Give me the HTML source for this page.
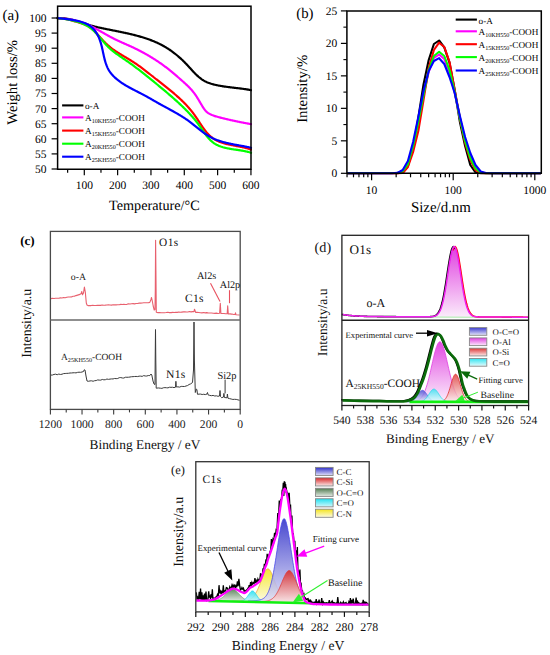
<!DOCTYPE html><html><head><meta charset="utf-8"><style>html,body{margin:0;padding:0;background:#fff;}svg{display:block;}text{font-family:"Liberation Serif",serif;text-rendering:geometricPrecision;}</style></head><body>
<svg width="550" height="655" viewBox="0 0 550 655">
<rect x="0" y="0" width="550" height="655" fill="#fff"/>
<path d="M57.44,18.3 L58.26,18.25 L59.08,18.22 L59.89,18.21 L60.7,18.21 L61.51,18.23 L62.31,18.27 L63.11,18.32 L63.91,18.38 L64.71,18.46 L65.5,18.55 L66.29,18.66 L67.08,18.78 L67.87,18.91 L68.65,19.05 L69.44,19.2 L70.22,19.36 L71,19.53 L71.77,19.71 L72.55,19.9 L73.32,20.1 L74.1,20.3 L74.87,20.51 L75.64,20.73 L76.41,20.95 L77.18,21.17 L77.94,21.4 L78.71,21.64 L79.47,21.88 L80.24,22.12 L81,22.36 L81.76,22.6 L82.53,22.85 L83.29,23.09 L84.05,23.34 L84.81,23.58 L85.57,23.83 L86.33,24.07 L87.09,24.31 L87.85,24.55 L88.61,24.79 L89.37,25.02 L90.13,25.25 L90.89,25.48 L91.65,25.7 L92.41,25.91 L93.17,26.12 L93.93,26.33 L94.69,26.53 L95.46,26.72 L96.22,26.91 L96.98,27.09 L97.75,27.27 L98.52,27.45 L99.29,27.62 L100.05,27.79 L100.82,27.95 L101.6,28.11 L102.37,28.27 L103.14,28.43 L103.92,28.59 L104.7,28.75 L105.48,28.91 L106.26,29.07 L107.04,29.22 L107.82,29.38 L108.61,29.53 L109.39,29.69 L110.18,29.84 L110.96,30 L111.75,30.15 L112.54,30.31 L113.33,30.46 L114.12,30.62 L114.91,30.78 L115.7,30.93 L116.49,31.09 L117.29,31.25 L118.08,31.41 L118.87,31.57 L119.66,31.73 L120.46,31.89 L121.25,32.06 L122.04,32.22 L122.84,32.39 L123.63,32.56 L124.42,32.72 L125.21,32.9 L126.01,33.07 L126.8,33.24 L127.59,33.42 L128.38,33.6 L129.17,33.78 L129.96,33.96 L130.75,34.15 L131.54,34.34 L132.32,34.53 L133.11,34.72 L133.89,34.92 L134.68,35.11 L135.46,35.32 L136.24,35.52 L137.02,35.73 L137.8,35.94 L138.57,36.15 L139.35,36.37 L140.12,36.59 L140.9,36.82 L141.67,37.04 L142.44,37.28 L143.2,37.51 L143.97,37.75 L144.73,38 L145.49,38.24 L146.25,38.5 L147.01,38.75 L147.76,39.01 L148.51,39.28 L149.26,39.55 L150.01,39.82 L150.75,40.1 L151.49,40.39 L152.23,40.68 L152.97,40.97 L153.7,41.27 L154.43,41.58 L155.16,41.89 L155.88,42.2 L156.61,42.53 L157.32,42.85 L158.04,43.19 L158.75,43.52 L159.46,43.87 L160.16,44.22 L160.86,44.58 L161.56,44.94 L162.26,45.31 L162.95,45.69 L163.63,46.07 L164.32,46.46 L165,46.85 L165.67,47.25 L166.34,47.66 L167.01,48.08 L167.68,48.49 L168.34,48.92 L168.99,49.35 L169.65,49.79 L170.3,50.24 L170.95,50.69 L171.59,51.14 L172.23,51.6 L172.87,52.07 L173.5,52.55 L174.13,53.03 L174.76,53.51 L175.38,54 L176,54.5 L176.62,55 L177.23,55.51 L177.84,56.02 L178.45,56.54 L179.05,57.07 L179.66,57.6 L180.25,58.13 L180.85,58.67 L181.44,59.22 L182.03,59.77 L182.61,60.33 L183.2,60.89 L183.77,61.46 L184.35,62.03 L184.92,62.61 L185.5,63.19 L186.06,63.78 L186.63,64.37 L187.19,64.97 L187.75,65.57 L188.31,66.17 L188.86,66.78 L189.42,67.39 L189.97,68 L190.52,68.61 L191.08,69.22 L191.63,69.83 L192.18,70.44 L192.74,71.04 L193.3,71.64 L193.86,72.23 L194.42,72.82 L194.99,73.4 L195.55,73.98 L196.13,74.54 L196.7,75.1 L197.29,75.65 L197.87,76.18 L198.47,76.71 L199.07,77.22 L199.67,77.72 L200.29,78.21 L200.91,78.68 L201.53,79.13 L202.17,79.57 L202.82,79.99 L203.47,80.4 L204.13,80.78 L204.81,81.15 L205.49,81.5 L206.18,81.83 L206.87,82.15 L207.58,82.45 L208.29,82.74 L209.01,83.01 L209.74,83.27 L210.48,83.52 L211.22,83.76 L211.97,83.98 L212.72,84.2 L213.48,84.4 L214.24,84.6 L215.01,84.78 L215.79,84.96 L216.57,85.13 L217.35,85.3 L218.14,85.46 L218.93,85.61 L219.73,85.76 L220.53,85.9 L221.33,86.04 L222.14,86.17 L222.95,86.3 L223.76,86.42 L224.57,86.54 L225.38,86.66 L226.2,86.77 L227.02,86.88 L227.83,86.99 L228.65,87.1 L229.47,87.2 L230.29,87.3 L231.11,87.4 L231.93,87.5 L232.75,87.6 L233.57,87.69 L234.39,87.79 L235.2,87.88 L236.01,87.98 L236.83,88.07 L237.64,88.17 L238.44,88.26 L239.25,88.36 L240.05,88.46 L240.85,88.56 L241.64,88.66 L242.43,88.76 L243.22,88.87 L244,88.98 L244.78,89.09 L245.56,89.2 L246.33,89.32 L247.09,89.44 L247.85,89.57 L248.6,89.7 L249.34,89.83 L250.08,89.97 L250.81,90.11 L250.94,90.14" fill="none" stroke="#000" stroke-width="2.2" stroke-linejoin="round" stroke-linecap="round"/>
<path d="M57.3,18.12 L58.15,18.18 L59,18.25 L59.84,18.31 L60.68,18.38 L61.51,18.45 L62.34,18.52 L63.16,18.6 L63.98,18.69 L64.8,18.77 L65.61,18.87 L66.42,18.96 L67.22,19.06 L68.02,19.17 L68.81,19.29 L69.6,19.4 L70.39,19.53 L71.17,19.66 L71.95,19.8 L72.73,19.94 L73.5,20.1 L74.27,20.25 L75.04,20.42 L75.8,20.6 L76.56,20.78 L77.32,20.97 L78.07,21.17 L78.82,21.38 L79.57,21.59 L80.32,21.82 L81.06,22.06 L81.8,22.3 L82.54,22.56 L83.28,22.82 L84.01,23.1 L84.74,23.38 L85.47,23.68 L86.2,23.98 L86.92,24.29 L87.65,24.61 L88.37,24.94 L89.09,25.27 L89.81,25.61 L90.52,25.96 L91.24,26.31 L91.95,26.67 L92.67,27.03 L93.38,27.4 L94.09,27.78 L94.8,28.16 L95.51,28.54 L96.21,28.93 L96.92,29.32 L97.63,29.71 L98.33,30.1 L99.04,30.5 L99.74,30.9 L100.45,31.3 L101.15,31.7 L101.86,32.1 L102.56,32.51 L103.26,32.91 L103.97,33.31 L104.67,33.71 L105.38,34.11 L106.08,34.51 L106.78,34.91 L107.49,35.3 L108.2,35.69 L108.9,36.08 L109.61,36.47 L110.32,36.85 L111.03,37.23 L111.74,37.6 L112.45,37.97 L113.16,38.33 L113.87,38.69 L114.59,39.05 L115.3,39.4 L116.02,39.74 L116.74,40.09 L117.46,40.43 L118.17,40.76 L118.89,41.1 L119.61,41.43 L120.33,41.76 L121.05,42.08 L121.78,42.41 L122.5,42.73 L123.22,43.06 L123.94,43.38 L124.66,43.7 L125.39,44.02 L126.11,44.34 L126.83,44.66 L127.56,44.98 L128.28,45.31 L129,45.63 L129.72,45.95 L130.45,46.28 L131.17,46.61 L131.89,46.94 L132.61,47.27 L133.33,47.61 L134.05,47.95 L134.77,48.29 L135.49,48.64 L136.21,48.99 L136.92,49.34 L137.64,49.7 L138.36,50.06 L139.07,50.42 L139.79,50.79 L140.5,51.16 L141.21,51.54 L141.92,51.91 L142.63,52.29 L143.34,52.68 L144.05,53.07 L144.75,53.46 L145.46,53.85 L146.16,54.25 L146.86,54.65 L147.56,55.05 L148.26,55.46 L148.95,55.87 L149.65,56.28 L150.34,56.7 L151.03,57.11 L151.72,57.54 L152.41,57.96 L153.09,58.39 L153.77,58.82 L154.45,59.25 L155.13,59.68 L155.81,60.12 L156.48,60.56 L157.15,61.01 L157.82,61.45 L158.49,61.9 L159.15,62.35 L159.81,62.81 L160.47,63.26 L161.12,63.72 L161.78,64.18 L162.43,64.65 L163.07,65.11 L163.72,65.58 L164.36,66.05 L165,66.53 L165.63,67 L166.26,67.48 L166.89,67.96 L167.52,68.44 L168.14,68.92 L168.76,69.41 L169.37,69.9 L169.98,70.39 L170.59,70.88 L171.2,71.38 L171.8,71.87 L172.4,72.37 L173,72.87 L173.59,73.37 L174.19,73.88 L174.78,74.39 L175.38,74.9 L175.97,75.41 L176.57,75.93 L177.17,76.44 L177.77,76.97 L178.37,77.49 L178.97,78.02 L179.57,78.55 L180.18,79.08 L180.79,79.61 L181.41,80.15 L182.03,80.7 L182.64,81.24 L183.26,81.79 L183.88,82.34 L184.49,82.9 L185.11,83.46 L185.72,84.02 L186.32,84.59 L186.93,85.16 L187.53,85.73 L188.12,86.31 L188.7,86.89 L189.28,87.47 L189.85,88.06 L190.41,88.66 L190.96,89.26 L191.5,89.86 L192.03,90.46 L192.55,91.07 L193.05,91.69 L193.54,92.31 L194.02,92.93 L194.49,93.56 L194.94,94.19 L195.39,94.83 L195.83,95.47 L196.26,96.11 L196.68,96.76 L197.1,97.41 L197.51,98.07 L197.91,98.72 L198.31,99.39 L198.71,100.05 L199.11,100.72 L199.51,101.39 L199.91,102.07 L200.31,102.74 L200.71,103.43 L201.11,104.11 L201.52,104.8 L201.93,105.48 L202.34,106.18 L202.77,106.87 L203.2,107.56 L203.64,108.24 L204.1,108.9 L204.58,109.55 L205.08,110.17 L205.59,110.76 L206.14,111.32 L206.71,111.85 L207.3,112.34 L207.92,112.8 L208.56,113.23 L209.21,113.63 L209.89,114.01 L210.58,114.37 L211.29,114.7 L212.01,115.01 L212.74,115.3 L213.49,115.58 L214.24,115.84 L215.01,116.09 L215.78,116.33 L216.55,116.56 L217.33,116.78 L218.12,116.99 L218.9,117.2 L219.68,117.41 L220.47,117.61 L221.25,117.82 L222.04,118.02 L222.82,118.22 L223.61,118.41 L224.39,118.61 L225.18,118.8 L225.96,118.99 L226.75,119.17 L227.53,119.36 L228.32,119.54 L229.1,119.72 L229.89,119.9 L230.67,120.08 L231.46,120.25 L232.24,120.43 L233.03,120.6 L233.81,120.77 L234.59,120.94 L235.38,121.1 L236.16,121.27 L236.95,121.43 L237.73,121.59 L238.51,121.75 L239.3,121.91 L240.08,122.07 L240.86,122.22 L241.65,122.37 L242.43,122.53 L243.21,122.68 L243.99,122.83 L244.78,122.97 L245.56,123.12 L246.34,123.27 L247.12,123.41 L247.9,123.55 L248.69,123.69 L249.47,123.84 L250.25,123.97 L250.99,124.11" fill="none" stroke="#ff00ff" stroke-width="2.2" stroke-linejoin="round" stroke-linecap="round"/>
<path d="M57.52,18.29 L58.29,18.27 L59.06,18.27 L59.84,18.3 L60.62,18.34 L61.4,18.4 L62.19,18.48 L62.98,18.58 L63.77,18.69 L64.56,18.82 L65.36,18.96 L66.15,19.11 L66.95,19.27 L67.75,19.45 L68.55,19.63 L69.35,19.82 L70.14,20.02 L70.94,20.23 L71.73,20.44 L72.53,20.66 L73.32,20.88 L74.11,21.1 L74.89,21.33 L75.67,21.55 L76.45,21.77 L77.23,22 L78,22.23 L78.76,22.46 L79.53,22.69 L80.28,22.94 L81.03,23.18 L81.77,23.44 L82.51,23.7 L83.24,23.98 L83.96,24.26 L84.68,24.56 L85.38,24.87 L86.08,25.2 L86.77,25.54 L87.45,25.9 L88.12,26.28 L88.78,26.67 L89.43,27.09 L90.07,27.52 L90.7,27.98 L91.32,28.45 L91.93,28.94 L92.53,29.45 L93.13,29.97 L93.71,30.51 L94.29,31.06 L94.87,31.62 L95.44,32.19 L96,32.77 L96.56,33.36 L97.12,33.96 L97.67,34.56 L98.22,35.17 L98.77,35.78 L99.31,36.39 L99.86,37 L100.4,37.61 L100.95,38.22 L101.5,38.83 L102.04,39.44 L102.59,40.04 L103.14,40.63 L103.7,41.22 L104.26,41.8 L104.82,42.37 L105.39,42.93 L105.96,43.48 L106.54,44.03 L107.12,44.57 L107.7,45.1 L108.3,45.62 L108.89,46.13 L109.5,46.64 L110.11,47.14 L110.72,47.63 L111.35,48.11 L111.97,48.59 L112.61,49.05 L113.25,49.52 L113.89,49.97 L114.54,50.42 L115.2,50.87 L115.85,51.31 L116.51,51.75 L117.18,52.18 L117.85,52.61 L118.52,53.03 L119.2,53.45 L119.87,53.87 L120.55,54.29 L121.23,54.7 L121.92,55.11 L122.6,55.52 L123.29,55.93 L123.98,56.34 L124.66,56.75 L125.35,57.16 L126.04,57.56 L126.73,57.97 L127.42,58.38 L128.1,58.79 L128.79,59.21 L129.47,59.62 L130.16,60.04 L130.84,60.46 L131.52,60.88 L132.19,61.31 L132.87,61.74 L133.54,62.18 L134.21,62.62 L134.87,63.06 L135.54,63.5 L136.2,63.95 L136.86,64.41 L137.51,64.87 L138.17,65.33 L138.82,65.79 L139.47,66.25 L140.12,66.72 L140.76,67.19 L141.41,67.67 L142.05,68.15 L142.69,68.62 L143.33,69.11 L143.97,69.59 L144.61,70.07 L145.24,70.56 L145.88,71.05 L146.51,71.54 L147.14,72.03 L147.77,72.52 L148.4,73.02 L149.03,73.51 L149.66,74.01 L150.29,74.5 L150.92,75 L151.54,75.5 L152.17,76 L152.8,76.49 L153.42,76.99 L154.05,77.49 L154.67,77.99 L155.3,78.49 L155.93,78.99 L156.55,79.48 L157.18,79.98 L157.81,80.48 L158.44,80.97 L159.06,81.47 L159.69,81.96 L160.32,82.45 L160.95,82.95 L161.58,83.44 L162.2,83.94 L162.83,84.43 L163.46,84.92 L164.08,85.42 L164.71,85.91 L165.33,86.41 L165.96,86.91 L166.58,87.4 L167.2,87.9 L167.82,88.4 L168.44,88.9 L169.06,89.4 L169.68,89.9 L170.3,90.41 L170.91,90.91 L171.53,91.42 L172.14,91.92 L172.75,92.43 L173.36,92.95 L173.96,93.46 L174.57,93.97 L175.17,94.49 L175.77,95.01 L176.37,95.53 L176.96,96.06 L177.56,96.59 L178.15,97.12 L178.74,97.65 L179.32,98.18 L179.9,98.72 L180.48,99.26 L181.06,99.81 L181.64,100.35 L182.21,100.9 L182.78,101.46 L183.34,102.02 L183.9,102.58 L184.46,103.14 L185.01,103.71 L185.57,104.28 L186.11,104.86 L186.66,105.44 L187.2,106.03 L187.73,106.62 L188.26,107.21 L188.79,107.81 L189.32,108.41 L189.84,109.02 L190.35,109.63 L190.86,110.25 L191.37,110.87 L191.87,111.5 L192.37,112.13 L192.86,112.77 L193.34,113.41 L193.83,114.06 L194.3,114.71 L194.78,115.37 L195.24,116.04 L195.71,116.71 L196.17,117.38 L196.62,118.06 L197.08,118.74 L197.53,119.42 L197.98,120.11 L198.42,120.79 L198.87,121.47 L199.32,122.16 L199.77,122.84 L200.21,123.52 L200.66,124.21 L201.11,124.88 L201.56,125.56 L202.02,126.23 L202.48,126.89 L202.94,127.55 L203.4,128.21 L203.87,128.86 L204.35,129.5 L204.83,130.14 L205.31,130.76 L205.81,131.38 L206.3,131.99 L206.81,132.59 L207.33,133.18 L207.85,133.75 L208.38,134.32 L208.92,134.87 L209.47,135.41 L210.03,135.94 L210.6,136.45 L211.18,136.95 L211.78,137.43 L212.38,137.9 L213,138.35 L213.63,138.78 L214.28,139.2 L214.94,139.6 L215.61,139.98 L216.29,140.34 L216.99,140.69 L217.7,141.02 L218.42,141.34 L219.15,141.65 L219.89,141.94 L220.63,142.22 L221.39,142.48 L222.16,142.74 L222.93,142.98 L223.71,143.21 L224.49,143.44 L225.29,143.65 L226.08,143.86 L226.89,144.06 L227.69,144.25 L228.5,144.43 L229.32,144.61 L230.13,144.78 L230.95,144.95 L231.77,145.12 L232.59,145.28 L233.42,145.43 L234.24,145.59 L235.06,145.74 L235.88,145.9 L236.7,146.05 L237.51,146.2 L238.33,146.36 L239.14,146.51 L239.94,146.67 L240.74,146.83 L241.54,147 L242.33,147.16 L243.12,147.34 L243.9,147.51 L244.67,147.7 L245.43,147.89 L246.19,148.09 L246.93,148.29 L247.67,148.5 L248.4,148.73 L249.11,148.96 L249.82,149.2 L250.51,149.45 L250.96,149.63" fill="none" stroke="#ff0000" stroke-width="2.2" stroke-linejoin="round" stroke-linecap="round"/>
<path d="M57.49,18.19 L58.27,18.25 L59.04,18.32 L59.83,18.4 L60.61,18.48 L61.4,18.57 L62.19,18.66 L62.99,18.76 L63.78,18.87 L64.58,18.99 L65.38,19.11 L66.18,19.24 L66.98,19.38 L67.78,19.52 L68.58,19.67 L69.38,19.83 L70.18,19.99 L70.98,20.16 L71.77,20.34 L72.57,20.52 L73.36,20.71 L74.15,20.91 L74.93,21.11 L75.72,21.33 L76.49,21.55 L77.27,21.77 L78.04,22.01 L78.8,22.25 L79.56,22.5 L80.31,22.76 L81.06,23.03 L81.8,23.32 L82.53,23.61 L83.26,23.92 L83.98,24.23 L84.69,24.56 L85.39,24.91 L86.08,25.26 L86.77,25.64 L87.44,26.02 L88.1,26.42 L88.76,26.84 L89.4,27.27 L90.03,27.72 L90.65,28.19 L91.26,28.67 L91.87,29.16 L92.46,29.67 L93.04,30.19 L93.62,30.73 L94.19,31.27 L94.75,31.83 L95.31,32.39 L95.86,32.97 L96.4,33.55 L96.94,34.14 L97.48,34.73 L98.01,35.34 L98.54,35.94 L99.07,36.56 L99.59,37.17 L100.12,37.79 L100.64,38.41 L101.16,39.03 L101.69,39.66 L102.21,40.28 L102.74,40.9 L103.26,41.52 L103.79,42.13 L104.32,42.75 L104.86,43.36 L105.4,43.96 L105.94,44.56 L106.49,45.15 L107.05,45.73 L107.61,46.31 L108.18,46.88 L108.75,47.44 L109.33,47.99 L109.92,48.53 L110.51,49.06 L111.11,49.58 L111.72,50.1 L112.33,50.61 L112.95,51.12 L113.57,51.61 L114.19,52.1 L114.82,52.59 L115.46,53.07 L116.09,53.54 L116.73,54.01 L117.38,54.48 L118.03,54.94 L118.67,55.4 L119.33,55.86 L119.98,56.31 L120.64,56.77 L121.29,57.22 L121.95,57.66 L122.61,58.11 L123.27,58.56 L123.93,59 L124.59,59.45 L125.25,59.9 L125.9,60.34 L126.56,60.79 L127.22,61.24 L127.87,61.7 L128.53,62.15 L129.18,62.61 L129.83,63.07 L130.48,63.53 L131.12,63.99 L131.77,64.46 L132.41,64.93 L133.05,65.4 L133.69,65.87 L134.33,66.35 L134.97,66.82 L135.61,67.3 L136.24,67.78 L136.87,68.26 L137.51,68.75 L138.14,69.23 L138.77,69.72 L139.4,70.21 L140.03,70.7 L140.66,71.19 L141.29,71.68 L141.91,72.17 L142.54,72.67 L143.16,73.16 L143.79,73.66 L144.41,74.16 L145.04,74.66 L145.66,75.16 L146.29,75.66 L146.91,76.16 L147.53,76.66 L148.16,77.17 L148.78,77.67 L149.41,78.17 L150.03,78.68 L150.65,79.18 L151.28,79.69 L151.9,80.19 L152.52,80.7 L153.15,81.2 L153.77,81.71 L154.4,82.22 L155.02,82.73 L155.64,83.23 L156.27,83.74 L156.89,84.25 L157.52,84.76 L158.14,85.27 L158.76,85.78 L159.38,86.29 L160,86.81 L160.62,87.32 L161.24,87.83 L161.86,88.35 L162.48,88.86 L163.1,89.38 L163.72,89.89 L164.34,90.41 L164.95,90.92 L165.57,91.44 L166.18,91.96 L166.79,92.48 L167.41,93 L168.02,93.52 L168.63,94.04 L169.24,94.57 L169.84,95.09 L170.45,95.61 L171.05,96.14 L171.66,96.66 L172.26,97.19 L172.86,97.72 L173.46,98.25 L174.06,98.78 L174.65,99.31 L175.25,99.84 L175.84,100.37 L176.43,100.91 L177.02,101.44 L177.61,101.98 L178.19,102.51 L178.78,103.05 L179.36,103.59 L179.94,104.13 L180.52,104.67 L181.09,105.21 L181.67,105.76 L182.24,106.3 L182.81,106.85 L183.37,107.39 L183.94,107.94 L184.5,108.5 L185.06,109.05 L185.62,109.6 L186.17,110.16 L186.72,110.72 L187.27,111.29 L187.82,111.85 L188.37,112.42 L188.91,112.99 L189.45,113.57 L189.98,114.14 L190.51,114.72 L191.04,115.31 L191.57,115.9 L192.1,116.49 L192.62,117.09 L193.13,117.69 L193.65,118.29 L194.16,118.9 L194.67,119.52 L195.17,120.14 L195.68,120.76 L196.17,121.39 L196.67,122.02 L197.16,122.66 L197.65,123.3 L198.13,123.95 L198.61,124.61 L199.09,125.27 L199.56,125.94 L200.04,126.61 L200.51,127.28 L200.97,127.96 L201.44,128.64 L201.91,129.32 L202.37,130 L202.84,130.68 L203.31,131.35 L203.78,132.02 L204.25,132.69 L204.73,133.36 L205.21,134.02 L205.7,134.67 L206.19,135.32 L206.68,135.95 L207.18,136.58 L207.69,137.2 L208.2,137.81 L208.73,138.4 L209.26,138.99 L209.8,139.55 L210.35,140.11 L210.91,140.65 L211.48,141.17 L212.06,141.68 L212.65,142.17 L213.26,142.63 L213.88,143.08 L214.51,143.51 L215.15,143.92 L215.81,144.31 L216.48,144.68 L217.17,145.02 L217.86,145.36 L218.57,145.67 L219.29,145.97 L220.01,146.25 L220.75,146.52 L221.49,146.77 L222.25,147.01 L223.01,147.24 L223.78,147.45 L224.56,147.66 L225.34,147.85 L226.13,148.03 L226.92,148.21 L227.72,148.37 L228.52,148.53 L229.33,148.68 L230.14,148.82 L230.96,148.96 L231.77,149.09 L232.59,149.22 L233.41,149.35 L234.23,149.47 L235.06,149.59 L235.88,149.71 L236.7,149.83 L237.52,149.95 L238.34,150.07 L239.15,150.19 L239.97,150.32 L240.78,150.45 L241.58,150.58 L242.39,150.71 L243.18,150.85 L243.98,151 L244.76,151.15 L245.55,151.32 L246.32,151.49 L247.09,151.66 L247.85,151.85 L248.6,152.05 L249.34,152.26 L250.08,152.48 L250.8,152.71 L251.03,152.79" fill="none" stroke="#00ff00" stroke-width="2.2" stroke-linejoin="round" stroke-linecap="round"/>
<path d="M57.61,18.12 L58.31,18.18 L59.03,18.25 L59.76,18.32 L60.51,18.39 L61.26,18.46 L62.02,18.54 L62.8,18.62 L63.58,18.71 L64.37,18.79 L65.17,18.89 L65.98,18.98 L66.79,19.09 L67.61,19.19 L68.43,19.3 L69.25,19.42 L70.08,19.54 L70.91,19.67 L71.74,19.8 L72.57,19.94 L73.4,20.08 L74.23,20.23 L75.06,20.39 L75.88,20.55 L76.7,20.73 L77.52,20.9 L78.33,21.09 L79.14,21.29 L79.94,21.5 L80.73,21.72 L81.51,21.95 L82.29,22.19 L83.05,22.45 L83.81,22.72 L84.55,23 L85.28,23.3 L86,23.62 L86.71,23.95 L87.4,24.31 L88.07,24.68 L88.73,25.07 L89.38,25.47 L90,25.9 L90.61,26.36 L91.2,26.83 L91.77,27.32 L92.33,27.83 L92.87,28.36 L93.39,28.9 L93.89,29.47 L94.38,30.05 L94.85,30.64 L95.31,31.26 L95.75,31.88 L96.18,32.52 L96.59,33.18 L96.99,33.84 L97.37,34.52 L97.74,35.21 L98.09,35.92 L98.44,36.63 L98.76,37.35 L99.08,38.08 L99.38,38.82 L99.66,39.57 L99.94,40.32 L100.2,41.09 L100.45,41.85 L100.69,42.63 L100.92,43.41 L101.15,44.19 L101.36,44.98 L101.56,45.77 L101.76,46.56 L101.95,47.36 L102.13,48.16 L102.32,48.96 L102.49,49.77 L102.67,50.57 L102.84,51.37 L103.01,52.18 L103.18,52.98 L103.36,53.79 L103.53,54.59 L103.7,55.39 L103.88,56.19 L104.07,56.99 L104.25,57.78 L104.44,58.57 L104.64,59.36 L104.85,60.14 L105.06,60.92 L105.29,61.69 L105.52,62.45 L105.76,63.21 L106.01,63.96 L106.28,64.71 L106.56,65.45 L106.85,66.18 L107.16,66.9 L107.48,67.61 L107.82,68.31 L108.18,69.01 L108.55,69.69 L108.95,70.36 L109.36,71.02 L109.79,71.67 L110.24,72.31 L110.7,72.94 L111.19,73.55 L111.68,74.16 L112.2,74.76 L112.73,75.34 L113.27,75.92 L113.83,76.49 L114.39,77.05 L114.97,77.59 L115.57,78.13 L116.17,78.66 L116.78,79.18 L117.41,79.69 L118.04,80.2 L118.68,80.69 L119.33,81.18 L119.98,81.65 L120.64,82.12 L121.31,82.58 L121.98,83.04 L122.65,83.48 L123.33,83.92 L124.01,84.35 L124.7,84.78 L125.38,85.19 L126.07,85.6 L126.76,86 L127.45,86.4 L128.14,86.79 L128.83,87.18 L129.53,87.56 L130.22,87.94 L130.92,88.31 L131.61,88.68 L132.31,89.05 L133.01,89.42 L133.71,89.78 L134.41,90.14 L135.11,90.5 L135.81,90.86 L136.52,91.21 L137.22,91.57 L137.92,91.93 L138.63,92.29 L139.34,92.65 L140.04,93.01 L140.75,93.38 L141.46,93.74 L142.16,94.11 L142.87,94.49 L143.58,94.86 L144.29,95.24 L145,95.63 L145.71,96.02 L146.42,96.41 L147.13,96.8 L147.84,97.2 L148.55,97.6 L149.26,98.01 L149.97,98.41 L150.68,98.82 L151.39,99.22 L152.1,99.63 L152.8,100.04 L153.51,100.45 L154.22,100.85 L154.93,101.26 L155.64,101.67 L156.35,102.07 L157.06,102.47 L157.77,102.88 L158.47,103.27 L159.18,103.67 L159.89,104.06 L160.59,104.46 L161.3,104.84 L162,105.23 L162.7,105.62 L163.41,106 L164.11,106.38 L164.81,106.77 L165.51,107.15 L166.21,107.53 L166.91,107.9 L167.61,108.28 L168.3,108.66 L169,109.04 L169.7,109.42 L170.39,109.8 L171.08,110.18 L171.77,110.56 L172.46,110.94 L173.15,111.32 L173.84,111.7 L174.52,112.09 L175.21,112.48 L175.89,112.87 L176.57,113.26 L177.25,113.65 L177.93,114.05 L178.61,114.45 L179.29,114.85 L179.96,115.25 L180.63,115.66 L181.3,116.07 L181.97,116.49 L182.64,116.91 L183.3,117.33 L183.97,117.76 L184.63,118.19 L185.29,118.62 L185.94,119.07 L186.6,119.51 L187.25,119.96 L187.9,120.42 L188.55,120.88 L189.2,121.35 L189.84,121.83 L190.49,122.31 L191.13,122.79 L191.76,123.28 L192.4,123.78 L193.03,124.28 L193.67,124.78 L194.3,125.29 L194.93,125.8 L195.57,126.31 L196.2,126.82 L196.83,127.33 L197.46,127.84 L198.1,128.35 L198.73,128.86 L199.37,129.37 L200,129.87 L200.64,130.37 L201.28,130.87 L201.92,131.36 L202.57,131.85 L203.21,132.34 L203.86,132.81 L204.52,133.28 L205.17,133.74 L205.83,134.2 L206.49,134.65 L207.16,135.08 L207.83,135.51 L208.51,135.93 L209.19,136.33 L209.88,136.73 L210.57,137.11 L211.26,137.48 L211.97,137.84 L212.67,138.19 L213.38,138.52 L214.1,138.85 L214.82,139.16 L215.55,139.46 L216.28,139.75 L217.01,140.04 L217.75,140.31 L218.49,140.57 L219.24,140.83 L219.99,141.08 L220.74,141.32 L221.5,141.55 L222.26,141.77 L223.02,141.99 L223.79,142.2 L224.56,142.4 L225.33,142.6 L226.11,142.79 L226.88,142.98 L227.66,143.16 L228.44,143.33 L229.22,143.51 L230.01,143.67 L230.79,143.84 L231.58,144 L232.37,144.15 L233.16,144.31 L233.95,144.46 L234.74,144.61 L235.54,144.76 L236.33,144.9 L237.12,145.05 L237.92,145.19 L238.71,145.33 L239.5,145.48 L240.3,145.62 L241.09,145.76 L241.88,145.91 L242.68,146.05 L243.47,146.2 L244.26,146.35 L245.05,146.5 L245.84,146.66 L246.63,146.81 L247.41,146.97 L248.2,147.13 L248.98,147.3 L249.76,147.47 L250.54,147.65 L251.04,147.76" fill="none" stroke="#0000ff" stroke-width="2.2" stroke-linejoin="round" stroke-linecap="round"/>
<rect x="57.6" y="6.2" width="193.4" height="163.05" fill="none" stroke="#000" stroke-width="1.5"/>
<line x1="51.6" y1="18" x2="57.6" y2="18" stroke="#000" stroke-width="1.2"/>
<text x="46.6" y="21.9" font-size="11.5" text-anchor="end" fill="#000" >100</text>
<line x1="51.6" y1="33.1" x2="57.6" y2="33.1" stroke="#000" stroke-width="1.2"/>
<text x="46.6" y="37" font-size="11.5" text-anchor="end" fill="#000" >95</text>
<line x1="51.6" y1="48.2" x2="57.6" y2="48.2" stroke="#000" stroke-width="1.2"/>
<text x="46.6" y="52.1" font-size="11.5" text-anchor="end" fill="#000" >90</text>
<line x1="51.6" y1="63.3" x2="57.6" y2="63.3" stroke="#000" stroke-width="1.2"/>
<text x="46.6" y="67.2" font-size="11.5" text-anchor="end" fill="#000" >85</text>
<line x1="51.6" y1="78.4" x2="57.6" y2="78.4" stroke="#000" stroke-width="1.2"/>
<text x="46.6" y="82.3" font-size="11.5" text-anchor="end" fill="#000" >80</text>
<line x1="51.6" y1="93.5" x2="57.6" y2="93.5" stroke="#000" stroke-width="1.2"/>
<text x="46.6" y="97.4" font-size="11.5" text-anchor="end" fill="#000" >75</text>
<line x1="51.6" y1="108.6" x2="57.6" y2="108.6" stroke="#000" stroke-width="1.2"/>
<text x="46.6" y="112.5" font-size="11.5" text-anchor="end" fill="#000" >70</text>
<line x1="51.6" y1="123.7" x2="57.6" y2="123.7" stroke="#000" stroke-width="1.2"/>
<text x="46.6" y="127.6" font-size="11.5" text-anchor="end" fill="#000" >65</text>
<line x1="51.6" y1="138.8" x2="57.6" y2="138.8" stroke="#000" stroke-width="1.2"/>
<text x="46.6" y="142.7" font-size="11.5" text-anchor="end" fill="#000" >60</text>
<line x1="51.6" y1="153.9" x2="57.6" y2="153.9" stroke="#000" stroke-width="1.2"/>
<text x="46.6" y="157.8" font-size="11.5" text-anchor="end" fill="#000" >55</text>
<line x1="51.6" y1="169" x2="57.6" y2="169" stroke="#000" stroke-width="1.2"/>
<text x="46.6" y="172.9" font-size="11.5" text-anchor="end" fill="#000" >50</text>
<line x1="67.63" y1="169.25" x2="67.63" y2="172.75" stroke="#000" stroke-width="1.2"/>
<line x1="84.3" y1="169.25" x2="84.3" y2="175.25" stroke="#000" stroke-width="1.2"/>
<text x="84.3" y="189.3" font-size="11.5" text-anchor="middle" fill="#000" >100</text>
<line x1="100.97" y1="169.25" x2="100.97" y2="172.75" stroke="#000" stroke-width="1.2"/>
<line x1="117.63" y1="169.25" x2="117.63" y2="175.25" stroke="#000" stroke-width="1.2"/>
<text x="117.63" y="189.3" font-size="11.5" text-anchor="middle" fill="#000" >200</text>
<line x1="134.29" y1="169.25" x2="134.29" y2="172.75" stroke="#000" stroke-width="1.2"/>
<line x1="150.96" y1="169.25" x2="150.96" y2="175.25" stroke="#000" stroke-width="1.2"/>
<text x="150.96" y="189.3" font-size="11.5" text-anchor="middle" fill="#000" >300</text>
<line x1="167.62" y1="169.25" x2="167.62" y2="172.75" stroke="#000" stroke-width="1.2"/>
<line x1="184.29" y1="169.25" x2="184.29" y2="175.25" stroke="#000" stroke-width="1.2"/>
<text x="184.29" y="189.3" font-size="11.5" text-anchor="middle" fill="#000" >400</text>
<line x1="200.95" y1="169.25" x2="200.95" y2="172.75" stroke="#000" stroke-width="1.2"/>
<line x1="217.62" y1="169.25" x2="217.62" y2="175.25" stroke="#000" stroke-width="1.2"/>
<text x="217.62" y="189.3" font-size="11.5" text-anchor="middle" fill="#000" >500</text>
<line x1="234.28" y1="169.25" x2="234.28" y2="172.75" stroke="#000" stroke-width="1.2"/>
<line x1="250.95" y1="169.25" x2="250.95" y2="175.25" stroke="#000" stroke-width="1.2"/>
<text x="250.95" y="189.3" font-size="11.5" text-anchor="middle" fill="#000" >600</text>
<text x="2.4" y="20.2" font-size="15" text-anchor="start" fill="#000" >(a)</text>
<text transform="translate(16.9,82.35) rotate(-90)" x="0" y="0" font-size="14.7" text-anchor="middle" fill="#000">Weight loss/%</text>
<text x="154.4" y="209.6" font-size="14.2" text-anchor="middle" fill="#000" >Temperature/°C</text>
<line x1="62.1" y1="105.4" x2="83.4" y2="105.4" stroke="#000" stroke-width="2.1"/>
<line x1="62.1" y1="117.4" x2="83.4" y2="117.4" stroke="#ff00ff" stroke-width="2.1"/>
<line x1="62.1" y1="130.6" x2="83.4" y2="130.6" stroke="#ff0000" stroke-width="2.1"/>
<line x1="62.1" y1="143.7" x2="83.4" y2="143.7" stroke="#00ff00" stroke-width="2.1"/>
<line x1="62.1" y1="156.7" x2="83.4" y2="156.7" stroke="#0000ff" stroke-width="2.1"/>
<text x="85" y="109.3" font-size="9.2" text-anchor="start" fill="#000" >o-A</text>
<text x="85" y="121.1" font-size="9.2" text-anchor="start">A<tspan font-size="6.1" dy="2">10KH550</tspan><tspan dy="-2">-COOH</tspan></text>
<text x="85" y="134.3" font-size="9.2" text-anchor="start">A<tspan font-size="6.1" dy="2">15KH550</tspan><tspan dy="-2">-COOH</tspan></text>
<text x="85" y="147.4" font-size="9.2" text-anchor="start">A<tspan font-size="6.1" dy="2">20KH550</tspan><tspan dy="-2">-COOH</tspan></text>
<text x="85" y="160.4" font-size="9.2" text-anchor="start">A<tspan font-size="6.1" dy="2">25KH550</tspan><tspan dy="-2">-COOH</tspan></text>
<path d="M347.4,173.3 L397.5,173.3 L402.7,172.5 L407.9,166 L413.1,148 L418.3,118 L423.5,84.5 L428.7,60 L433.9,44 L439.1,40.5 L444.3,47.3 L449.5,62.7 L454.7,90 L459.9,122 L465.1,146 L470.3,165 L475.5,172.5 L480.7,173.3 L540.8,173.3" fill="none" stroke="#000" stroke-width="2.1" stroke-linejoin="round"/>
<path d="M347.4,173.3 L397.5,173 L402.7,171 L407.9,164 L413.1,146 L418.3,122 L423.5,95 L428.7,72 L433.9,58 L439.1,54.5 L444.3,59 L449.5,72 L454.7,93 L459.9,118 L465.1,140 L470.3,157 L475.5,168 L480.7,172.5 L485.9,173.3 L540.8,173.3" fill="none" stroke="#ff00ff" stroke-width="2.1" stroke-linejoin="round"/>
<path d="M347.4,173.3 L397.5,173.3 L402.7,173 L407.9,167 L413.1,152 L418.3,131 L423.5,100 L428.7,68 L433.9,50 L439.1,42.7 L444.3,47 L449.5,62 L454.7,90 L459.9,118 L465.1,143 L470.3,160 L475.5,170 L480.7,173 L485.9,173.3 L540.8,173.3" fill="none" stroke="#ff0000" stroke-width="2.1" stroke-linejoin="round"/>
<path d="M347.4,173.3 L397.5,173 L402.7,171 L407.9,164 L413.1,146 L418.3,122 L423.5,95 L428.7,70 L433.9,56 L439.1,51.8 L444.3,56 L449.5,70 L454.7,92 L459.9,118 L465.1,141 L470.3,158 L475.5,168.5 L480.7,172.5 L485.9,173.3 L540.8,173.3" fill="none" stroke="#00ff00" stroke-width="2.1" stroke-linejoin="round"/>
<path d="M347.4,173.3 L392.3,173.3 L397.5,172.8 L402.7,170 L407.9,161 L413.1,142 L418.3,117 L423.5,91 L428.7,71 L433.9,61 L439.1,58.2 L444.3,64 L449.5,77 L454.7,93 L459.9,116 L465.1,137 L470.3,153 L475.5,165 L480.7,171.5 L485.9,173 L491.1,173.3 L540.8,173.3" fill="none" stroke="#0000ff" stroke-width="2.1" stroke-linejoin="round"/>
<path d="M346.9,10.9 L541.3,10.9 L541.3,173.3 L346.9,173.3 Z" fill="none" stroke="#000" stroke-width="1.5"/>
<line x1="340.9" y1="173.3" x2="346.9" y2="173.3" stroke="#000" stroke-width="1.2"/>
<text x="337.3" y="177.2" font-size="11.5" text-anchor="end" fill="#000" >0</text>
<line x1="343.4" y1="157.06" x2="346.9" y2="157.06" stroke="#000" stroke-width="1.1"/>
<line x1="340.9" y1="140.82" x2="346.9" y2="140.82" stroke="#000" stroke-width="1.2"/>
<text x="337.3" y="144.72" font-size="11.5" text-anchor="end" fill="#000" >5</text>
<line x1="343.4" y1="124.58" x2="346.9" y2="124.58" stroke="#000" stroke-width="1.1"/>
<line x1="340.9" y1="108.34" x2="346.9" y2="108.34" stroke="#000" stroke-width="1.2"/>
<text x="337.3" y="112.24" font-size="11.5" text-anchor="end" fill="#000" >10</text>
<line x1="343.4" y1="92.1" x2="346.9" y2="92.1" stroke="#000" stroke-width="1.1"/>
<line x1="340.9" y1="75.86" x2="346.9" y2="75.86" stroke="#000" stroke-width="1.2"/>
<text x="337.3" y="79.76" font-size="11.5" text-anchor="end" fill="#000" >15</text>
<line x1="343.4" y1="59.62" x2="346.9" y2="59.62" stroke="#000" stroke-width="1.1"/>
<line x1="340.9" y1="43.38" x2="346.9" y2="43.38" stroke="#000" stroke-width="1.2"/>
<text x="337.3" y="47.28" font-size="11.5" text-anchor="end" fill="#000" >20</text>
<line x1="343.4" y1="27.14" x2="346.9" y2="27.14" stroke="#000" stroke-width="1.1"/>
<line x1="340.9" y1="10.9" x2="346.9" y2="10.9" stroke="#000" stroke-width="1.2"/>
<text x="337.3" y="14.8" font-size="11.5" text-anchor="end" fill="#000" >25</text>
<line x1="347.04" y1="173.3" x2="347.04" y2="177.3" stroke="#000" stroke-width="1.2"/>
<line x1="353.5" y1="173.3" x2="353.5" y2="177.3" stroke="#000" stroke-width="1.2"/>
<line x1="358.96" y1="173.3" x2="358.96" y2="177.3" stroke="#000" stroke-width="1.2"/>
<line x1="363.69" y1="173.3" x2="363.69" y2="177.3" stroke="#000" stroke-width="1.2"/>
<line x1="367.87" y1="173.3" x2="367.87" y2="177.3" stroke="#000" stroke-width="1.2"/>
<line x1="371.6" y1="173.3" x2="371.6" y2="180.3" stroke="#000" stroke-width="1.2"/>
<text x="371.6" y="194.3" font-size="11.5" text-anchor="middle" fill="#000" >10</text>
<line x1="396.16" y1="173.3" x2="396.16" y2="177.3" stroke="#000" stroke-width="1.2"/>
<line x1="410.53" y1="173.3" x2="410.53" y2="177.3" stroke="#000" stroke-width="1.2"/>
<line x1="420.73" y1="173.3" x2="420.73" y2="177.3" stroke="#000" stroke-width="1.2"/>
<line x1="428.64" y1="173.3" x2="428.64" y2="177.3" stroke="#000" stroke-width="1.2"/>
<line x1="435.1" y1="173.3" x2="435.1" y2="177.3" stroke="#000" stroke-width="1.2"/>
<line x1="440.56" y1="173.3" x2="440.56" y2="177.3" stroke="#000" stroke-width="1.2"/>
<line x1="445.29" y1="173.3" x2="445.29" y2="177.3" stroke="#000" stroke-width="1.2"/>
<line x1="449.47" y1="173.3" x2="449.47" y2="177.3" stroke="#000" stroke-width="1.2"/>
<line x1="453.2" y1="173.3" x2="453.2" y2="180.3" stroke="#000" stroke-width="1.2"/>
<text x="453.2" y="194.3" font-size="11.5" text-anchor="middle" fill="#000" >100</text>
<line x1="477.76" y1="173.3" x2="477.76" y2="177.3" stroke="#000" stroke-width="1.2"/>
<line x1="492.13" y1="173.3" x2="492.13" y2="177.3" stroke="#000" stroke-width="1.2"/>
<line x1="502.33" y1="173.3" x2="502.33" y2="177.3" stroke="#000" stroke-width="1.2"/>
<line x1="510.24" y1="173.3" x2="510.24" y2="177.3" stroke="#000" stroke-width="1.2"/>
<line x1="516.7" y1="173.3" x2="516.7" y2="177.3" stroke="#000" stroke-width="1.2"/>
<line x1="522.16" y1="173.3" x2="522.16" y2="177.3" stroke="#000" stroke-width="1.2"/>
<line x1="526.89" y1="173.3" x2="526.89" y2="177.3" stroke="#000" stroke-width="1.2"/>
<line x1="531.07" y1="173.3" x2="531.07" y2="177.3" stroke="#000" stroke-width="1.2"/>
<line x1="534.8" y1="173.3" x2="534.8" y2="180.3" stroke="#000" stroke-width="1.2"/>
<text x="534.8" y="194.3" font-size="11.5" text-anchor="middle" fill="#000" >1000</text>
<text x="296.3" y="18.2" font-size="14.8" text-anchor="start" fill="#000" >(b)</text>
<text transform="translate(307,88.8) rotate(-90)" x="0" y="0" font-size="14.75" text-anchor="middle" fill="#000">Intensity/%</text>
<text x="440.9" y="212.4" font-size="14.9" text-anchor="middle" fill="#000" >Size/d.nm</text>
<line x1="455.7" y1="19.6" x2="476.9" y2="19.6" stroke="#000" stroke-width="2.1"/>
<line x1="455.7" y1="31.3" x2="476.9" y2="31.3" stroke="#ff00ff" stroke-width="2.1"/>
<line x1="455.7" y1="44.2" x2="476.9" y2="44.2" stroke="#ff0000" stroke-width="2.1"/>
<line x1="455.7" y1="57.1" x2="476.9" y2="57.1" stroke="#00ff00" stroke-width="2.1"/>
<line x1="455.7" y1="70.5" x2="476.9" y2="70.5" stroke="#0000ff" stroke-width="2.1"/>
<text x="478.6" y="23.5" font-size="9.2" text-anchor="start" fill="#000" >o-A</text>
<text x="478.6" y="35" font-size="9.2" text-anchor="start">A<tspan font-size="6.1" dy="2">10KH550</tspan><tspan dy="-2">-COOH</tspan></text>
<text x="478.6" y="47.9" font-size="9.2" text-anchor="start">A<tspan font-size="6.1" dy="2">15KH550</tspan><tspan dy="-2">-COOH</tspan></text>
<text x="478.6" y="60.8" font-size="9.2" text-anchor="start">A<tspan font-size="6.1" dy="2">20KH550</tspan><tspan dy="-2">-COOH</tspan></text>
<text x="478.6" y="74.2" font-size="9.2" text-anchor="start">A<tspan font-size="6.1" dy="2">25KH550</tspan><tspan dy="-2">-COOH</tspan></text>
<path d="M50.8,298.6 L52.4,298.38 L54,298.45 L55.6,298.28 L57.2,298.31 L58.8,298.23 L60.4,297.87 L62,298 L63.6,297.56 L65.2,297.77 L66.8,297.28 L68.4,297.07 L70,297 L71.5,296.9 L73,296.29 L74.5,296.12 L76,295.6 L80,294.4 L81.2,293.5 L81.8,291.5 L82.5,294.8 L83.5,293 L84.4,287 L85.3,292 L86.3,303 L87,305 L88,305.6 L89.57,305.55 L91.14,305.58 L92.71,305.3 L94.29,305.5 L95.86,305.57 L97.43,305.35 L99,305.42 L100.57,305.34 L102.14,305 L103.71,305.3 L105.29,305.17 L106.86,304.99 L108.43,304.81 L110,305 L111.54,305.11 L113.08,304.83 L114.62,304.88 L116.15,304.88 L117.69,304.72 L119.23,304.75 L120.77,304.41 L122.31,304.54 L123.85,304.28 L125.38,304.45 L126.92,304.34 L128.46,303.88 L130,304 L131.52,303.69 L133.05,303.61 L134.57,303.86 L136.09,303.48 L137.62,303.45 L139.14,303.16 L140.66,303.14 L142.18,302.96 L143.71,302.82 L145.23,302.81 L146.75,302.69 L148.28,302.73 L149.8,302.4 L151,299.5 L151.5,297.5 L152.3,301 L153.2,306 L154.2,310 L155,309.5 L155.3,290 L155.6,240.3 L155.9,270 L156.3,312.2 L158,312.6 L159.63,312.67 L161.27,312.77 L162.9,312.71 L164.53,312.76 L166.17,312.57 L167.8,312.3 L169.43,312.62 L171.07,312.65 L172.7,312.4 L174.22,312.55 L175.74,312.32 L177.26,312.34 L178.79,312.03 L180.31,312.28 L181.83,312.09 L183.35,311.89 L184.87,311.72 L186.39,312.06 L187.91,312.07 L189.44,311.57 L190.96,311.86 L192.48,311.61 L194,311.6 L194.5,309.2 L195,310.5 L195.6,312.4 L197.2,312.29 L198.8,312.43 L200.4,312.73 L202,312.85 L203.6,312.51 L205.2,312.86 L206.8,312.64 L208.4,313.04 L210,313 L211.6,312.95 L213.2,313.26 L214.8,313.34 L216.4,313.14 L218,313.42 L219.6,313.2 L220.3,303.2 L220.9,313.5 L222.47,313.48 L224.05,313.44 L225.62,313.77 L227.2,313.8 L227.7,305.8 L228.3,314 L229.98,313.89 L231.65,314.1 L233.32,314.33 L235,314.5 L235.5,312.8 L236,314.8 L239.6,315" fill="none" stroke="#e8606e" stroke-width="1.1" stroke-linejoin="round"/>
<path d="M50.8,375.1 L52.4,375.02 L54,374.44 L55.6,374.16 L57.2,374.73 L58.8,374.06 L60.4,374.46 L62,374.23 L63.6,373.59 L65.2,373.49 L66.8,373.37 L68.4,373.3 L70,373 L71.5,372.96 L73,372.8 L74.5,372.73 L76,372.9 L77.5,372.38 L79,372.19 L80.5,372.32 L82,372 L83.5,371.5 L84.2,369.8 L85,370 L86,376 L87,381 L88.5,381.3 L90.04,380.91 L91.57,380.81 L93.11,381.26 L94.64,380.69 L96.18,380.56 L97.71,379.92 L99.25,380.12 L100.79,380.11 L102.32,379.45 L103.86,379.83 L105.39,379.69 L106.93,379.02 L108.46,379.37 L110,379.1 L111.54,378.91 L113.08,378.94 L114.62,378.48 L116.15,378.64 L117.69,378.51 L119.23,377.7 L120.77,377.57 L122.31,377.97 L123.85,378.06 L125.38,377.26 L126.92,377.28 L128.46,377.24 L130,377 L131.52,376.73 L133.05,376.66 L134.57,376.51 L136.09,376.45 L137.62,376.55 L139.14,376.17 L140.66,376.14 L142.18,376.38 L143.71,375.6 L145.23,375.99 L146.75,376.03 L148.28,375.54 L149.8,375.6 L151,374 L151.8,375 L153,381 L154,384 L155,384.5 L155.2,360 L155.5,329.5 L155.8,360 L156.2,388.2 L158.3,387.95 L160.4,388.2 L161.91,388.37 L163.42,387.76 L164.93,387.62 L166.44,387.74 L167.95,387.88 L169.46,387.24 L170.97,387.34 L172.48,387.25 L173.99,387.6 L175.5,387.2 L175.9,381.3 L176.3,387 L177.94,386.84 L179.58,387.12 L181.22,386.4 L182.86,386.45 L184.5,386.5 L186.03,385.99 L187.55,385.55 L189.07,384.51 L190.6,383.9 L192.5,382.5 L193.5,370 L194,322 L194.4,360 L195.3,392.5 L196.3,389 L196.9,389.5 L197.5,394.3 L199.06,394.11 L200.62,394.08 L202.18,394.51 L203.74,394.26 L205.3,394.6 L207,394 L207.5,392.5 L208,394.8 L209.7,395.38 L211.4,395.7 L213.1,395.42 L214.8,396 L216.37,395.8 L217.93,396.28 L219.5,396 L220,390.5 L220.5,396.5 L221.7,397.7 L223.5,397 L223.9,393.4 L224.4,397.5 L227,397.8 L227.4,394 L227.9,398.2 L229.5,398.6 L231.18,399.01 L232.87,399.44 L234.55,399.31 L236.23,399.4 L237.92,399.83 L239.6,400.3" fill="none" stroke="#3a3a3a" stroke-width="1.0" stroke-linejoin="round"/>
<line x1="210.5" y1="283.3" x2="220" y2="301.5" stroke="#e8505e" stroke-width="1.1"/>
<line x1="229.5" y1="290.2" x2="229.5" y2="303.2" stroke="#e8505e" stroke-width="1.1"/>
<line x1="225.1" y1="379.6" x2="225.1" y2="393.4" stroke="#3a3a3a" stroke-width="1"/>
<rect x="50.4" y="231.4" width="189.8" height="178" fill="none" stroke="#4a4a4a" stroke-width="1.3"/>
<line x1="50.4" y1="320" x2="240.2" y2="320" stroke="#6a6a6a" stroke-width="1.4"/>
<line x1="50.4" y1="409.4" x2="50.4" y2="414.6" stroke="#3a3a3a" stroke-width="1.1"/>
<text x="50.4" y="427.6" font-size="11.6" text-anchor="middle" fill="#222" >1200</text>
<line x1="66.22" y1="409.4" x2="66.22" y2="412.4" stroke="#3a3a3a" stroke-width="1.1"/>
<line x1="82.03" y1="409.4" x2="82.03" y2="414.6" stroke="#3a3a3a" stroke-width="1.1"/>
<text x="82.03" y="427.6" font-size="11.6" text-anchor="middle" fill="#222" >1000</text>
<line x1="97.85" y1="409.4" x2="97.85" y2="412.4" stroke="#3a3a3a" stroke-width="1.1"/>
<line x1="113.67" y1="409.4" x2="113.67" y2="414.6" stroke="#3a3a3a" stroke-width="1.1"/>
<text x="113.67" y="427.6" font-size="11.6" text-anchor="middle" fill="#222" >800</text>
<line x1="129.48" y1="409.4" x2="129.48" y2="412.4" stroke="#3a3a3a" stroke-width="1.1"/>
<line x1="145.3" y1="409.4" x2="145.3" y2="414.6" stroke="#3a3a3a" stroke-width="1.1"/>
<text x="145.3" y="427.6" font-size="11.6" text-anchor="middle" fill="#222" >600</text>
<line x1="161.12" y1="409.4" x2="161.12" y2="412.4" stroke="#3a3a3a" stroke-width="1.1"/>
<line x1="176.93" y1="409.4" x2="176.93" y2="414.6" stroke="#3a3a3a" stroke-width="1.1"/>
<text x="176.93" y="427.6" font-size="11.6" text-anchor="middle" fill="#222" >400</text>
<line x1="192.75" y1="409.4" x2="192.75" y2="412.4" stroke="#3a3a3a" stroke-width="1.1"/>
<line x1="208.57" y1="409.4" x2="208.57" y2="414.6" stroke="#3a3a3a" stroke-width="1.1"/>
<text x="208.57" y="427.6" font-size="11.6" text-anchor="middle" fill="#222" >200</text>
<line x1="224.38" y1="409.4" x2="224.38" y2="412.4" stroke="#3a3a3a" stroke-width="1.1"/>
<line x1="240.2" y1="409.4" x2="240.2" y2="414.6" stroke="#3a3a3a" stroke-width="1.1"/>
<text x="240.2" y="427.6" font-size="11.6" text-anchor="middle" fill="#222" >0</text>
<text x="20.2" y="245.2" font-size="13" text-anchor="start" fill="#000" font-weight="bold">(c)</text>
<text transform="translate(31.4,323.3) rotate(-90)" x="0" y="0" font-size="13.9" text-anchor="middle" fill="#111">Intensity/a.u</text>
<text x="145" y="448.6" font-size="13.4" text-anchor="middle" fill="#111" >Binding Energy / eV</text>
<text x="159" y="246" font-size="11.3" text-anchor="start" fill="#111" letter-spacing="0.5">O1s</text>
<text x="185" y="301.6" font-size="11.5" text-anchor="start" fill="#111" letter-spacing="0.3">C1s</text>
<text x="197" y="279" font-size="10.2" text-anchor="start" fill="#111" >Al2s</text>
<text x="219.8" y="288.4" font-size="10.2" text-anchor="start" fill="#111" >Al2p</text>
<text x="70.8" y="280.4" font-size="9.8" text-anchor="start" fill="#111" >o-A</text>
<text x="166" y="378.4" font-size="11.6" text-anchor="start" fill="#111" letter-spacing="0.3">N1s</text>
<text x="217.4" y="378.7" font-size="10.4" text-anchor="start" fill="#111" >Si2p</text>
<text x="61" y="360" font-size="9.45" fill="#111">A<tspan font-size="6.15" dy="2.1">25KH550</tspan><tspan dy="-2.1">-COOH</tspan></text>
<defs>
<linearGradient id="gdM" x1="0" y1="0" x2="0" y2="1"><stop offset="0" stop-color="#e040e0"/><stop offset="1" stop-color="#fbebfb"/></linearGradient>
<linearGradient id="gdM2" x1="0" y1="0" x2="0" y2="1"><stop offset="0" stop-color="#e040e0"/><stop offset="1" stop-color="#fbebfb"/></linearGradient>
<linearGradient id="gdB" x1="0" y1="0" x2="0" y2="1"><stop offset="0" stop-color="#3c3cd0"/><stop offset="1" stop-color="#e7e7f9"/></linearGradient>
<linearGradient id="gdR" x1="0" y1="0" x2="0" y2="1"><stop offset="0" stop-color="#dc3434"/><stop offset="1" stop-color="#fbeaea"/></linearGradient>
<linearGradient id="gdC" x1="0" y1="0" x2="0" y2="1"><stop offset="0" stop-color="#30e4f0"/><stop offset="1" stop-color="#e6fbfd"/></linearGradient>
</defs>
<path d="M430,316.69 L430.5,316.67 L431,316.65 L431.5,316.62 L432,316.58 L432.5,316.53 L433,316.47 L433.5,316.39 L434,316.28 L434.5,316.15 L435,315.99 L435.5,315.79 L436,315.54 L436.5,315.24 L437,314.88 L437.5,314.45 L438,313.93 L438.5,313.32 L439,312.6 L439.5,311.76 L440,310.8 L440.5,309.69 L441,308.42 L441.5,306.99 L442,305.38 L442.5,303.59 L443,301.61 L443.5,299.44 L444,297.08 L444.5,294.53 L445,291.81 L445.5,288.93 L446,285.9 L446.5,282.75 L447,279.51 L447.5,276.21 L448,272.88 L448.5,269.58 L449,266.33 L449.5,263.18 L450,260.19 L450.5,257.4 L451,254.84 L451.5,252.57 L452,250.62 L452.5,249.03 L453,247.82 L453.5,247.02 L454,246.63 L454.5,246.68 L455,247.15 L455.5,248.04 L456,249.33 L456.5,251 L457,253.03 L457.5,255.36 L458,257.97 L458.5,260.82 L459,263.85 L459.5,267.02 L460,270.29 L460.5,273.61 L461,276.94 L461.5,280.23 L462,283.46 L462.5,286.59 L463,289.6 L463.5,292.46 L464,295.15 L464.5,297.66 L465,299.99 L465.5,302.13 L466,304.07 L466.5,305.83 L467,307.41 L467.5,308.81 L468,310.05 L468.5,311.14 L469,312.08 L469.5,312.9 L470,313.6 L470.5,314.19 L471,314.7 L471.5,315.12 L472,315.47 L472.5,315.76 L473,316.01 L473.5,316.2 L474,316.36 L474.5,316.49 L475,316.6 L475.5,316.68 L476,316.75 L476.5,316.8 L477,316.84 L477.5,316.87 L478,316.9 Z" fill="url(#gdM)" stroke="none"/>
<line x1="430" y1="317.04" x2="480" y2="317.28" stroke="#a8e8a8" stroke-width="1"/>
<path d="M342.5,314.4 L343.1,314.51 L343.7,314.62 L344.3,314.72 L344.9,314.82 L345.5,314.91 L346.1,314.99 L346.7,315.08 L347.3,315.16 L347.9,315.23 L348.5,315.3 L349.1,315.37 L349.7,315.44 L350.3,315.5 L350.9,315.56 L351.5,315.61 L352.1,315.67 L352.7,315.72 L353.3,315.76 L353.9,315.81 L354.5,315.85 L355.1,315.89 L355.7,315.93 L356.3,315.97 L356.9,316.01 L357.5,316.04 L358.1,316.07 L358.7,316.1 L359.3,316.13 L359.9,316.16 L360.5,316.19 L361.1,316.21 L361.7,316.24 L362.3,316.26 L362.9,316.28 L363.5,316.3 L364.1,316.32 L364.7,316.34 L365.3,316.36 L365.9,316.37 L366.5,316.39 L367.1,316.4 L367.7,316.42 L368.3,316.43 L368.9,316.44 L369.5,316.46 L370.1,316.47 L370.7,316.48 L371.3,316.49 L371.9,316.5 L372.5,316.51 L373.1,316.52 L373.7,316.53 L374.3,316.54 L374.9,316.55 L375.5,316.55 L376.1,316.56 L376.7,316.57 L377.3,316.57 L377.9,316.58 L378.5,316.59 L379.1,316.59 L379.7,316.6 L380.3,316.6 L380.9,316.61 L381.5,316.61 L382.1,316.62 L382.7,316.62 L383.3,316.62 L383.9,316.63 L384.5,316.63 L385.1,316.63 L385.7,316.64 L386.3,316.64 L386.9,316.64 L387.5,316.65 L388.1,316.65 L388.7,316.65 L389.3,316.65 L389.9,316.66 L390.5,316.66 L391.1,316.66 L391.7,316.66 L392.3,316.66 L392.9,316.67 L393.5,316.67 L394.1,316.67 L394.7,316.67 L395.3,316.67 L395.9,316.67 L396.5,316.67 L397.1,316.68 L397.7,316.68 L398.3,316.68 L398.9,316.68 L399.5,316.68 L400.1,316.68 L400.7,316.68 L401.3,316.68 L401.9,316.68 L402.5,316.68 L403.1,316.69 L403.7,316.69 L404.3,316.69 L404.9,316.69 L405.5,316.69 L406.1,316.69 L406.7,316.69 L407.3,316.69 L407.9,316.69 L408.5,316.69 L409.1,316.69 L409.7,316.69 L410.3,316.69 L410.9,316.69 L411.5,316.69 L412.1,316.69 L412.7,316.69 L413.3,316.69 L413.9,316.69 L414.5,316.69 L415.1,316.69 L415.7,316.69 L416.3,316.7 L416.9,316.7 L417.5,316.7 L418.1,316.7 L418.7,316.7 L419.3,316.7 L419.9,316.7 L420.5,316.7 L421.1,316.7 L421.7,316.7 L422.3,316.71 L422.9,316.71 L423.5,316.71 L424.1,316.72 L424.7,316.72 L425.3,316.72 L425.9,316.72 L426.5,316.72 L427.1,316.72 L427.7,316.72 L428.3,316.72 L428.9,316.71 L429.5,316.7 L430.1,316.69 L430.7,316.67 L431.3,316.63 L431.9,316.59 L432.5,316.53 L433.1,316.45 L433.7,316.35 L434.3,316.21 L434.9,316.02 L435.5,315.79 L436.1,315.49 L436.7,315.1 L437.3,314.63 L437.9,314.04 L438.5,313.32 L439.1,312.44 L439.7,311.39 L440.3,310.15 L440.9,308.69 L441.5,306.99 L442.1,305.04 L442.7,302.82 L443.3,300.33 L443.9,297.57 L444.5,294.53 L445.1,291.25 L445.7,287.73 L446.3,284.02 L446.9,280.16 L447.5,276.21 L448.1,272.22 L448.7,268.27 L449.3,264.43 L449.9,260.78 L450.5,257.4 L451.1,254.36 L451.7,251.75 L452.3,249.62 L452.9,248.03 L453.5,247.02 L454.1,246.61 L454.7,246.82 L455.3,247.64 L455.9,249.04" fill="none" stroke="#000" stroke-width="1.6" transform="translate(-0.7,0)"/>
<path d="M452,250.62 L452.6,248.75 L453.2,247.45 L453.8,246.74 L454.4,246.64 L455,247.15 L455.6,248.27 L456.2,249.96 L456.8,252.18 L457.4,254.87 L458,257.97 L458.6,261.41 L459.2,265.1 L459.8,268.97 L460.4,272.94 L461,276.94 L461.6,280.89 L462.2,284.73 L462.8,288.41 L463.4,291.9 L464,295.15 L464.6,298.14 L465.2,300.87 L465.8,303.32 L466.4,305.5 L467,307.41 L467.6,309.07 L468.2,310.5 L468.8,311.72 L469.4,312.74 L470,313.6 L470.6,314.3 L471.2,314.87 L471.8,315.34 L472.4,315.71 L473,316.01 L473.6,316.24 L474.2,316.42 L474.8,316.56 L475.4,316.67 L476,316.75 L476.6,316.81 L477.2,316.85 L477.8,316.89 L478.4,316.92 L479,316.93 L479.6,316.95 L480.2,316.96 L480.8,316.97 L481.4,316.98 L482,316.98 L482.6,316.99 L483.2,316.99 L483.8,316.99 L484.4,317 L485,317 L485.6,317 L486.2,317.01 L486.8,317.01 L487.4,317.01 L488,317.01 L488.6,317.02 L489.2,317.02 L489.8,317.02 L490.4,317.03 L491,317.03 L491.6,317.03 L492.2,317.03 L492.8,317.04 L493.4,317.04 L494,317.04 L494.6,317.05 L495.2,317.05 L495.8,317.05 L496.4,317.05 L497,317.06 L497.6,317.06 L498.2,317.06 L498.8,317.06 L499.4,317.07 L500,317.07 L500.6,317.07 L501.2,317.08 L501.8,317.08 L502.4,317.08 L503,317.08 L503.6,317.09 L504.2,317.09 L504.8,317.09 L505.4,317.1 L506,317.1 L506.6,317.1 L507.2,317.1 L507.8,317.11 L508.4,317.11 L509,317.11 L509.6,317.11 L510.2,317.12 L510.8,317.12 L511.4,317.12 L512,317.13 L512.6,317.13 L513.2,317.13 L513.8,317.13 L514.4,317.14 L515,317.14 L515.6,317.14 L516.2,317.15 L516.8,317.15 L517.4,317.15 L518,317.15 L518.6,317.16 L519.2,317.16 L519.8,317.16 L520.4,317.16 L521,317.17 L521.6,317.17 L522.2,317.17 L522.8,317.18 L523.4,317.18 L524,317.18 L524.6,317.18 L525.2,317.19 L525.8,317.19 L526.4,317.19 L527,317.2 L527.6,317.2" fill="none" stroke="#ff0000" stroke-width="1.6" transform="translate(0.7,0)"/>
<path d="M342.5,314.4 L343.1,314.51 L343.7,314.62 L344.3,314.72 L344.9,314.82 L345.5,314.91 L346.1,314.99 L346.7,315.08 L347.3,315.16 L347.9,315.23 L348.5,315.3 L349.1,315.37 L349.7,315.44 L350.3,315.5 L350.9,315.56 L351.5,315.61 L352.1,315.67 L352.7,315.72 L353.3,315.76 L353.9,315.81 L354.5,315.85 L355.1,315.89 L355.7,315.93 L356.3,315.97 L356.9,316.01 L357.5,316.04 L358.1,316.07 L358.7,316.1 L359.3,316.13 L359.9,316.16 L360.5,316.19 L361.1,316.21 L361.7,316.24 L362.3,316.26 L362.9,316.28 L363.5,316.3 L364.1,316.32 L364.7,316.34 L365.3,316.36 L365.9,316.37 L366.5,316.39 L367.1,316.4 L367.7,316.42 L368.3,316.43 L368.9,316.44 L369.5,316.46 L370.1,316.47 L370.7,316.48 L371.3,316.49 L371.9,316.5 L372.5,316.51 L373.1,316.52 L373.7,316.53 L374.3,316.54 L374.9,316.55 L375.5,316.55 L376.1,316.56 L376.7,316.57 L377.3,316.57 L377.9,316.58 L378.5,316.59 L379.1,316.59 L379.7,316.6 L380.3,316.6 L380.9,316.61 L381.5,316.61 L382.1,316.62 L382.7,316.62 L383.3,316.62 L383.9,316.63 L384.5,316.63 L385.1,316.63 L385.7,316.64 L386.3,316.64 L386.9,316.64 L387.5,316.65 L388.1,316.65 L388.7,316.65 L389.3,316.65 L389.9,316.66 L390.5,316.66 L391.1,316.66 L391.7,316.66 L392.3,316.66 L392.9,316.67 L393.5,316.67 L394.1,316.67 L394.7,316.67 L395.3,316.67 L395.9,316.67 L396.5,316.67 L397.1,316.68 L397.7,316.68 L398.3,316.68 L398.9,316.68 L399.5,316.68 L400.1,316.68 L400.7,316.68 L401.3,316.68 L401.9,316.68 L402.5,316.68 L403.1,316.69 L403.7,316.69 L404.3,316.69 L404.9,316.69 L405.5,316.69 L406.1,316.69 L406.7,316.69 L407.3,316.69 L407.9,316.69 L408.5,316.69 L409.1,316.69 L409.7,316.69 L410.3,316.69 L410.9,316.69 L411.5,316.69 L412.1,316.69 L412.7,316.69 L413.3,316.69 L413.9,316.69 L414.5,316.69 L415.1,316.69 L415.7,316.69 L416.3,316.7 L416.9,316.7 L417.5,316.7 L418.1,316.7 L418.7,316.7 L419.3,316.7 L419.9,316.7 L420.5,316.7 L421.1,316.7 L421.7,316.7 L422.3,316.71 L422.9,316.71 L423.5,316.71 L424.1,316.72 L424.7,316.72 L425.3,316.72 L425.9,316.72 L426.5,316.72 L427.1,316.72 L427.7,316.72 L428.3,316.72 L428.9,316.71 L429.5,316.7 L430.1,316.69 L430.7,316.67 L431.3,316.63 L431.9,316.59 L432.5,316.53 L433.1,316.45 L433.7,316.35 L434.3,316.21 L434.9,316.02 L435.5,315.79 L436.1,315.49 L436.7,315.1 L437.3,314.63 L437.9,314.04 L438.5,313.32 L439.1,312.44 L439.7,311.39 L440.3,310.15 L440.9,308.69 L441.5,306.99 L442.1,305.04 L442.7,302.82 L443.3,300.33 L443.9,297.57 L444.5,294.53 L445.1,291.25 L445.7,287.73 L446.3,284.02 L446.9,280.16 L447.5,276.21 L448.1,272.22 L448.7,268.27 L449.3,264.43 L449.9,260.78 L450.5,257.4 L451.1,254.36 L451.7,251.75 L452.3,249.62 L452.9,248.03 L453.5,247.02 L454.1,246.61 L454.7,246.82 L455.3,247.64 L455.9,249.04 L456.5,251 L457.1,253.47 L457.7,256.37 L458.3,259.65 L458.9,263.23 L459.5,267.02 L460.1,270.95 L460.7,274.94 L461.3,278.92 L461.9,282.82 L462.5,286.59 L463.1,290.18 L463.7,293.55 L464.3,296.68 L464.9,299.54 L465.5,302.13 L466.1,304.44 L466.7,306.48 L467.3,308.27 L467.9,309.81 L468.5,311.14 L469.1,312.25 L469.7,313.19 L470.3,313.96 L470.9,314.6 L471.5,315.12 L472.1,315.53 L472.7,315.87 L473.3,316.13 L473.9,316.33 L474.5,316.49 L475.1,316.62 L475.7,316.71 L476.3,316.78 L476.9,316.83 L477.5,316.87 L478.1,316.9 L478.7,316.93 L479.3,316.94 L479.9,316.96 L480.5,316.96 L481.1,316.97 L481.7,316.98 L482.3,316.98 L482.9,316.99 L483.5,316.99 L484.1,317 L484.7,317 L485.3,317 L485.9,317 L486.5,317.01 L487.1,317.01 L487.7,317.01 L488.3,317.02 L488.9,317.02 L489.5,317.02 L490.1,317.02 L490.7,317.03 L491.3,317.03 L491.9,317.03 L492.5,317.04 L493.1,317.04 L493.7,317.04 L494.3,317.04 L494.9,317.05 L495.5,317.05 L496.1,317.05 L496.7,317.06 L497.3,317.06 L497.9,317.06 L498.5,317.06 L499.1,317.07 L499.7,317.07 L500.3,317.07 L500.9,317.07 L501.5,317.08 L502.1,317.08 L502.7,317.08 L503.3,317.09 L503.9,317.09 L504.5,317.09 L505.1,317.09 L505.7,317.1 L506.3,317.1 L506.9,317.1 L507.5,317.11 L508.1,317.11 L508.7,317.11 L509.3,317.11 L509.9,317.12 L510.5,317.12 L511.1,317.12 L511.7,317.12 L512.3,317.13 L512.9,317.13 L513.5,317.13 L514.1,317.14 L514.7,317.14 L515.3,317.14 L515.9,317.14 L516.5,317.15 L517.1,317.15 L517.7,317.15 L518.3,317.16 L518.9,317.16 L519.5,317.16 L520.1,317.16 L520.7,317.17 L521.3,317.17 L521.9,317.17 L522.5,317.17 L523.1,317.18 L523.7,317.18 L524.3,317.18 L524.9,317.19 L525.5,317.19 L526.1,317.19 L526.7,317.19 L527.3,317.2 L527.9,317.2" fill="none" stroke="#f020f0" stroke-width="1.5"/>
<path d="M413.17,401.54 L413.67,401.48 L414.17,401.41 L414.67,401.33 L415.17,401.23 L415.67,401.12 L416.17,400.98 L416.67,400.82 L417.17,400.63 L417.67,400.41 L418.17,400.16 L418.67,399.87 L419.17,399.53 L419.67,399.15 L420.17,398.71 L420.67,398.22 L421.17,397.66 L421.67,397.03 L422.17,396.33 L422.67,395.55 L423.17,394.69 L423.67,393.74 L424.17,392.7 L424.67,391.56 L425.17,390.32 L425.67,388.98 L426.17,387.54 L426.67,385.99 L427.17,384.35 L427.67,382.61 L428.17,380.77 L428.67,378.85 L429.17,376.85 L429.67,374.77 L430.17,372.64 L430.67,370.45 L431.17,368.23 L431.67,365.99 L432.17,363.75 L432.67,361.51 L433.17,359.31 L433.67,357.16 L434.17,355.08 L434.67,353.09 L435.17,351.21 L435.67,349.45 L436.17,347.84 L436.67,346.39 L437.17,345.11 L437.67,344.03 L438.17,343.15 L438.67,342.49 L439.17,342.04 L439.67,341.82 L440.17,341.83 L440.67,342.07 L441.17,342.53 L441.67,343.22 L442.17,344.11 L442.67,345.21 L443.17,346.5 L443.67,347.96 L444.17,349.58 L444.67,351.35 L445.17,353.25 L445.67,355.25 L446.17,357.33 L446.67,359.49 L447.17,361.69 L447.67,363.93 L448.17,366.17 L448.67,368.41 L449.17,370.63 L449.67,372.81 L450.17,374.94 L450.67,377.01 L451.17,379.01 L451.67,380.92 L452.17,382.75 L452.67,384.48 L453.17,386.12 L453.67,387.66 L454.17,389.09 L454.67,390.42 L455.17,391.65 L455.67,392.78 L456.17,393.82 L456.67,394.76 L457.17,395.62 L457.67,396.39 L458.17,397.09 L458.67,397.71 L459.17,398.26 L459.67,398.75 L460.17,399.18 L460.67,399.56 L461.17,399.89 L461.67,400.18 L462.17,400.43 L462.67,400.65 L463.17,400.83 L463.67,400.99 L464.17,401.13 L464.67,401.24 L465.17,401.34 L465.67,401.42 L466.17,401.49 Z" fill="url(#gdM2)" stroke="#e040e0" stroke-width="0.8" fill-opacity="0.95"/>
<path d="M407.32,401.75 L407.82,401.73 L408.32,401.7 L408.82,401.66 L409.32,401.61 L409.82,401.54 L410.32,401.45 L410.82,401.34 L411.32,401.2 L411.82,401.02 L412.32,400.81 L412.82,400.54 L413.32,400.23 L413.82,399.86 L414.32,399.43 L414.82,398.95 L415.32,398.4 L415.82,397.79 L416.32,397.14 L416.82,396.43 L417.32,395.7 L417.82,394.95 L418.32,394.19 L418.82,393.45 L419.32,392.74 L419.82,392.1 L420.32,391.52 L420.82,391.04 L421.32,390.67 L421.82,390.42 L422.32,390.31 L422.82,390.33 L423.32,390.48 L423.82,390.76 L424.32,391.17 L424.82,391.67 L425.32,392.27 L425.82,392.94 L426.32,393.65 L426.82,394.4 L427.32,395.16 L427.82,395.91 L428.32,396.63 L428.82,397.32 L429.32,397.97 L429.82,398.56 L430.32,399.09 L430.82,399.56 L431.32,399.97 L431.82,400.32 L432.32,400.62 L432.82,400.87 L433.32,401.08 L433.82,401.24 L434.32,401.38 L434.82,401.48 L435.32,401.56 L435.82,401.63 L436.32,401.67 L436.82,401.71 L437.32,401.74 Z" fill="url(#gdB)" stroke="#6060e0" stroke-width="0.8" fill-opacity="0.8"/>
<path d="M439.76,401.68 L440.26,401.63 L440.76,401.57 L441.26,401.48 L441.76,401.37 L442.26,401.22 L442.76,401.03 L443.26,400.79 L443.76,400.48 L444.26,400.11 L444.76,399.65 L445.26,399.09 L445.76,398.42 L446.26,397.64 L446.76,396.74 L447.26,395.7 L447.76,394.53 L448.26,393.23 L448.76,391.8 L449.26,390.26 L449.76,388.63 L450.26,386.94 L450.76,385.2 L451.26,383.46 L451.76,381.76 L452.26,380.13 L452.76,378.63 L453.26,377.29 L453.76,376.16 L454.26,375.25 L454.76,374.62 L455.26,374.27 L455.76,374.22 L456.26,374.46 L456.76,374.99 L457.26,375.8 L457.76,376.86 L458.26,378.13 L458.76,379.58 L459.26,381.16 L459.76,382.84 L460.26,384.57 L460.76,386.31 L461.26,388.03 L461.76,389.69 L462.26,391.26 L462.76,392.73 L463.26,394.07 L463.76,395.29 L464.26,396.38 L464.76,397.33 L465.26,398.16 L465.76,398.86 L466.26,399.46 L466.76,399.95 L467.26,400.36 L467.76,400.68 L468.26,400.95 L468.76,401.16 L469.26,401.32 L469.76,401.44 L470.26,401.54 L470.76,401.61 L471.26,401.67 Z" fill="url(#gdR)" stroke="#e03030" stroke-width="0.8" fill-opacity="0.8"/>
<path d="M417.73,401.75 L418.23,401.72 L418.73,401.69 L419.23,401.66 L419.73,401.61 L420.23,401.54 L420.73,401.46 L421.23,401.35 L421.73,401.22 L422.23,401.06 L422.73,400.86 L423.23,400.61 L423.73,400.33 L424.23,399.99 L424.73,399.6 L425.23,399.15 L425.73,398.64 L426.23,398.07 L426.73,397.45 L427.23,396.77 L427.73,396.05 L428.23,395.3 L428.73,394.52 L429.23,393.74 L429.73,392.96 L430.23,392.21 L430.73,391.5 L431.23,390.85 L431.73,390.29 L432.23,389.82 L432.73,389.46 L433.23,389.22 L433.73,389.11 L434.23,389.13 L434.73,389.28 L435.23,389.56 L435.73,389.96 L436.23,390.46 L436.73,391.05 L437.23,391.72 L437.73,392.44 L438.23,393.21 L438.73,393.99 L439.23,394.77 L439.73,395.54 L440.23,396.29 L440.73,396.99 L441.23,397.65 L441.73,398.26 L442.23,398.81 L442.73,399.3 L443.23,399.73 L443.73,400.1 L444.23,400.42 L444.73,400.7 L445.23,400.92 L445.73,401.11 L446.23,401.26 L446.73,401.39 L447.23,401.49 L447.73,401.56 L448.23,401.62 L448.73,401.67 L449.23,401.7 L449.73,401.73 Z" fill="url(#gdC)" stroke="#30d8e8" stroke-width="0.8" fill-opacity="0.8"/>
<line x1="409.5" y1="401.9" x2="528.1" y2="401.9" stroke="#10f010" stroke-width="2.6"/>
<path d="M342.3,400.4 C345.25,400.48 353.72,400.77 360,400.9 C366.28,401.03 373.33,401.1 380,401.2 C386.67,401.3 395.67,401.5 400,401.5 C404.33,401.5 404.4,401.4 406,401.2 C407.6,401 408.52,400.67 409.6,400.3 C410.68,399.93 411.58,399.58 412.5,399 C413.42,398.42 414.18,397.88 415.1,396.8 C416.02,395.72 417.08,394.3 418,392.5 C418.92,390.7 419.8,388 420.6,386 C421.4,384 422.1,382.42 422.8,380.5 C423.5,378.58 424.12,376.67 424.8,374.5 C425.48,372.33 426.22,369.93 426.9,367.5 C427.58,365.07 428.22,362.57 428.9,359.9 C429.58,357.23 430.32,354.18 431,351.5 C431.68,348.82 432.33,346.15 433,343.8 C433.67,341.45 434.3,339.02 435,337.4 C435.7,335.78 436.53,334.6 437.2,334.1 C437.87,333.6 438.37,334.05 439,334.4 C439.63,334.75 440.3,335.18 441,336.2 C441.7,337.22 442.47,338.87 443.2,340.5 C443.93,342.13 444.63,344.32 445.4,346 C446.17,347.68 447,349.33 447.8,350.6 C448.6,351.87 449.4,352.67 450.2,353.6 C451,354.53 451.83,355.37 452.6,356.2 C453.37,357.03 454.1,357.63 454.8,358.6 C455.5,359.57 456.2,360.72 456.8,362 C457.4,363.28 457.93,364.88 458.4,366.3 C458.87,367.72 459.12,368.55 459.6,370.5 C460.08,372.45 460.77,375.67 461.3,378 C461.83,380.33 462.23,382.5 462.8,384.5 C463.37,386.5 464.07,388.32 464.7,390 C465.33,391.68 465.95,393.33 466.6,394.6 C467.25,395.87 467.77,396.73 468.6,397.6 C469.43,398.47 470.37,399.23 471.6,399.8 C472.83,400.37 473.77,400.72 476,401 C478.23,401.28 481,401.4 485,401.5 C489,401.6 492.8,401.58 500,401.6 C507.2,401.62 523.5,401.6 528.2,401.6" fill="none" stroke="#000" stroke-width="1.5" transform="translate(-1.2,-0.6)"/>
<path d="M342.3,400.4 C345.25,400.48 353.72,400.77 360,400.9 C366.28,401.03 373.33,401.1 380,401.2 C386.67,401.3 395.67,401.5 400,401.5 C404.33,401.5 404.4,401.4 406,401.2 C407.6,401 408.52,400.67 409.6,400.3 C410.68,399.93 411.58,399.58 412.5,399 C413.42,398.42 414.18,397.88 415.1,396.8 C416.02,395.72 417.08,394.3 418,392.5 C418.92,390.7 419.8,388 420.6,386 C421.4,384 422.1,382.42 422.8,380.5 C423.5,378.58 424.12,376.67 424.8,374.5 C425.48,372.33 426.22,369.93 426.9,367.5 C427.58,365.07 428.22,362.57 428.9,359.9 C429.58,357.23 430.32,354.18 431,351.5 C431.68,348.82 432.33,346.15 433,343.8 C433.67,341.45 434.3,339.02 435,337.4 C435.7,335.78 436.53,334.6 437.2,334.1 C437.87,333.6 438.37,334.05 439,334.4 C439.63,334.75 440.3,335.18 441,336.2 C441.7,337.22 442.47,338.87 443.2,340.5 C443.93,342.13 444.63,344.32 445.4,346 C446.17,347.68 447,349.33 447.8,350.6 C448.6,351.87 449.4,352.67 450.2,353.6 C451,354.53 451.83,355.37 452.6,356.2 C453.37,357.03 454.1,357.63 454.8,358.6 C455.5,359.57 456.2,360.72 456.8,362 C457.4,363.28 457.93,364.88 458.4,366.3 C458.87,367.72 459.12,368.55 459.6,370.5 C460.08,372.45 460.77,375.67 461.3,378 C461.83,380.33 462.23,382.5 462.8,384.5 C463.37,386.5 464.07,388.32 464.7,390 C465.33,391.68 465.95,393.33 466.6,394.6 C467.25,395.87 467.77,396.73 468.6,397.6 C469.43,398.47 470.37,399.23 471.6,399.8 C472.83,400.37 473.77,400.72 476,401 C478.23,401.28 481,401.4 485,401.5 C489,401.6 492.8,401.58 500,401.6 C507.2,401.62 523.5,401.6 528.2,401.6" fill="none" stroke="#0a6a0a" stroke-width="2.7" stroke-linejoin="round"/>
<rect x="341.9" y="235.3" width="186.7" height="170.2" fill="none" stroke="#222" stroke-width="1.3"/>
<line x1="341.9" y1="320.3" x2="528.6" y2="320.3" stroke="#222" stroke-width="1.4"/>
<line x1="341.9" y1="405.5" x2="341.9" y2="410.5" stroke="#111" stroke-width="1.2"/>
<text x="341.9" y="423.5" font-size="11.6" text-anchor="middle" fill="#111" >540</text>
<line x1="353.57" y1="405.5" x2="353.57" y2="408.5" stroke="#111" stroke-width="1.2"/>
<line x1="365.24" y1="405.5" x2="365.24" y2="410.5" stroke="#111" stroke-width="1.2"/>
<text x="365.24" y="423.5" font-size="11.6" text-anchor="middle" fill="#111" >538</text>
<line x1="376.91" y1="405.5" x2="376.91" y2="408.5" stroke="#111" stroke-width="1.2"/>
<line x1="388.57" y1="405.5" x2="388.57" y2="410.5" stroke="#111" stroke-width="1.2"/>
<text x="388.57" y="423.5" font-size="11.6" text-anchor="middle" fill="#111" >536</text>
<line x1="400.24" y1="405.5" x2="400.24" y2="408.5" stroke="#111" stroke-width="1.2"/>
<line x1="411.91" y1="405.5" x2="411.91" y2="410.5" stroke="#111" stroke-width="1.2"/>
<text x="411.91" y="423.5" font-size="11.6" text-anchor="middle" fill="#111" >534</text>
<line x1="423.58" y1="405.5" x2="423.58" y2="408.5" stroke="#111" stroke-width="1.2"/>
<line x1="435.25" y1="405.5" x2="435.25" y2="410.5" stroke="#111" stroke-width="1.2"/>
<text x="435.25" y="423.5" font-size="11.6" text-anchor="middle" fill="#111" >532</text>
<line x1="446.92" y1="405.5" x2="446.92" y2="408.5" stroke="#111" stroke-width="1.2"/>
<line x1="458.59" y1="405.5" x2="458.59" y2="410.5" stroke="#111" stroke-width="1.2"/>
<text x="458.59" y="423.5" font-size="11.6" text-anchor="middle" fill="#111" >530</text>
<line x1="470.26" y1="405.5" x2="470.26" y2="408.5" stroke="#111" stroke-width="1.2"/>
<line x1="481.93" y1="405.5" x2="481.93" y2="410.5" stroke="#111" stroke-width="1.2"/>
<text x="481.93" y="423.5" font-size="11.6" text-anchor="middle" fill="#111" >528</text>
<line x1="493.59" y1="405.5" x2="493.59" y2="408.5" stroke="#111" stroke-width="1.2"/>
<line x1="505.26" y1="405.5" x2="505.26" y2="410.5" stroke="#111" stroke-width="1.2"/>
<text x="505.26" y="423.5" font-size="11.6" text-anchor="middle" fill="#111" >526</text>
<line x1="516.93" y1="405.5" x2="516.93" y2="408.5" stroke="#111" stroke-width="1.2"/>
<line x1="528.6" y1="405.5" x2="528.6" y2="410.5" stroke="#111" stroke-width="1.2"/>
<text x="528.6" y="423.5" font-size="11.6" text-anchor="middle" fill="#111" >524</text>
<text x="314.6" y="251.6" font-size="14.2" text-anchor="start" fill="#111" >(d)</text>
<text transform="translate(327.3,322.35) rotate(-90)" x="0" y="0" font-size="13.6" text-anchor="middle" fill="#111">Intensity/a.u</text>
<text x="440.3" y="442.6" font-size="13.1" text-anchor="middle" fill="#111" >Binding Energy / eV</text>
<text x="349.4" y="254.1" font-size="13.2" text-anchor="start" fill="#111" letter-spacing="0.3">O1s</text>
<text x="366.6" y="307.3" font-size="12" text-anchor="start" fill="#111" >o-A</text>
<text x="345.5" y="387" font-size="11.45" fill="#111">A<tspan font-size="7.6" dy="2.4">25KH550</tspan><tspan dy="-2.4">-COOH</tspan></text>
<text x="345.6" y="338.4" font-size="8.6" text-anchor="start" fill="#111" >Experimental curve</text>
<text x="478.6" y="383" font-size="8.6" text-anchor="start" fill="#111" >Fitting curve</text>
<text x="480.6" y="398.1" font-size="9.7" text-anchor="start" fill="#111" >Baseline</text>
<line x1="416" y1="333.2" x2="428" y2="333.2" stroke="#000" stroke-width="1.3"/>
<path d="M438,333.2 L427,336.4 L427,330 Z" fill="#000"/>
<line x1="477.2" y1="379.1" x2="467.93" y2="374.84" stroke="#0a6a0a" stroke-width="1.2"/>
<path d="M460.2,371.3 L470.42,371.81 L467.25,378.72 Z" fill="#0a6a0a"/>
<line x1="477.9" y1="392.2" x2="462.64" y2="398.25" stroke="#30f030" stroke-width="1"/>
<path d="M455.2,401.2 L462.31,394.72 L464.82,401.04 Z" fill="#30f030"/>
<rect x="469.4" y="327.6" width="17.4" height="7.7" fill="url(#gdB)" stroke="#888" stroke-width="0.9"/>
<text x="492.6" y="334.8" font-size="8.8" text-anchor="start" fill="#111" >O-C=O</text>
<rect x="469.4" y="337.9" width="17.4" height="7.7" fill="url(#gdM)" stroke="#888" stroke-width="0.9"/>
<text x="492.6" y="345.1" font-size="8.8" text-anchor="start" fill="#111" >O-Al</text>
<rect x="469.4" y="348.2" width="17.4" height="7.7" fill="url(#gdR)" stroke="#888" stroke-width="0.9"/>
<text x="492.6" y="355.4" font-size="8.8" text-anchor="start" fill="#111" >O-Si</text>
<rect x="469.4" y="358.5" width="17.4" height="7.7" fill="url(#gdC)" stroke="#888" stroke-width="0.9"/>
<text x="492.6" y="365.7" font-size="8.8" text-anchor="start" fill="#111" >C=O</text>
<defs>
<linearGradient id="geB" x1="0" y1="0" x2="0" y2="1"><stop offset="0" stop-color="#2e2ec8"/><stop offset="1" stop-color="#e1e1f7"/></linearGradient>
<linearGradient id="geR" x1="0" y1="0" x2="0" y2="1"><stop offset="0" stop-color="#d82828"/><stop offset="1" stop-color="#fbe9e9"/></linearGradient>
<linearGradient id="geG" x1="0" y1="0" x2="0" y2="1"><stop offset="0" stop-color="#4f7a4f"/><stop offset="1" stop-color="#e4ebe4"/></linearGradient>
<linearGradient id="geC" x1="0" y1="0" x2="0" y2="1"><stop offset="0" stop-color="#20e0f0"/><stop offset="1" stop-color="#d2f8fc"/></linearGradient>
<linearGradient id="geY" x1="0" y1="0" x2="0" y2="1"><stop offset="0" stop-color="#f4e41c"/><stop offset="1" stop-color="#fdfbe3"/></linearGradient>
</defs>
<path d="M200.15,600.66 L200.65,600.67 L201.15,600.68 L201.65,600.68 L202.15,600.69 L202.65,600.7 L203.15,600.7 L203.65,600.71 L204.15,600.71 L204.65,600.72 L205.15,600.72 L205.65,600.73 L206.15,600.73 L206.65,600.73 L207.15,600.74 L207.65,600.74 L208.15,600.74 L208.65,600.74 L209.15,600.74 L209.65,600.73 L210.15,600.73 L210.65,600.72 L211.15,600.71 L211.65,600.69 L212.15,600.68 L212.65,600.65 L213.15,600.63 L213.65,600.59 L214.15,600.55 L214.65,600.5 L215.15,600.44 L215.65,600.37 L216.15,600.29 L216.65,600.19 L217.15,600.07 L217.65,599.94 L218.15,599.79 L218.65,599.62 L219.15,599.42 L219.65,599.2 L220.15,598.96 L220.65,598.68 L221.15,598.38 L221.65,598.05 L222.15,597.69 L222.65,597.3 L223.15,596.89 L223.65,596.45 L224.15,595.98 L224.65,595.49 L225.15,594.99 L225.65,594.46 L226.15,593.93 L226.65,593.4 L227.15,592.87 L227.65,592.34 L228.15,591.83 L228.65,591.35 L229.15,590.89 L229.65,590.47 L230.15,590.11 L230.65,589.79 L231.15,589.54 L231.65,589.36 L232.15,589.24 L232.65,589.21 L233.15,589.25 L233.65,589.37 L234.15,589.56 L234.65,589.82 L235.15,590.15 L235.65,590.53 L236.15,590.96 L236.65,591.43 L237.15,591.93 L237.65,592.46 L238.15,593 L238.65,593.55 L239.15,594.11 L239.65,594.66 L240.15,595.21 L240.65,595.74 L241.15,596.26 L241.65,596.75 L242.15,597.22 L242.65,597.66 L243.15,598.08 L243.65,598.46 L244.15,598.82 L244.65,599.15 L245.15,599.45 L245.65,599.73 L246.15,599.97 L246.65,600.2 L247.15,600.39 L247.65,600.57 L248.15,600.73 L248.65,600.87 L249.15,600.99 L249.65,601.1 L250.15,601.2 L250.65,601.28 L251.15,601.35 L251.65,601.42 L252.15,601.48 L252.65,601.53 L253.15,601.57 L253.65,601.61 L254.15,601.65 L254.65,601.68 L255.15,601.71 L255.65,601.74 L256.15,601.77 L256.65,601.79 L257.15,601.81 L257.65,601.84 L258.15,601.86 L258.65,601.88 L259.15,601.89 L259.65,601.91 L260.15,601.93 L260.65,601.95 L261.15,601.97 L261.65,601.98 L262.15,602 L262.65,602.01 L263.15,602.03 L263.65,602.05 L264.15,602.06 L264.65,602.08 L265.15,602.09" fill="url(#geG)" stroke="none" fill-opacity="0.88"/>
<path d="M200.15,600.66 L200.65,600.67 L201.15,600.68 L201.65,600.68 L202.15,600.69 L202.65,600.7 L203.15,600.7 L203.65,600.71 L204.15,600.71 L204.65,600.72 L205.15,600.72 L205.65,600.73 L206.15,600.73 L206.65,600.73 L207.15,600.74 L207.65,600.74 L208.15,600.74 L208.65,600.74 L209.15,600.74 L209.65,600.73 L210.15,600.73 L210.65,600.72 L211.15,600.71 L211.65,600.69 L212.15,600.68 L212.65,600.65 L213.15,600.63 L213.65,600.59 L214.15,600.55 L214.65,600.5 L215.15,600.44 L215.65,600.37 L216.15,600.29 L216.65,600.19 L217.15,600.07 L217.65,599.94 L218.15,599.79 L218.65,599.62 L219.15,599.42 L219.65,599.2 L220.15,598.96 L220.65,598.68 L221.15,598.38 L221.65,598.05 L222.15,597.69 L222.65,597.3 L223.15,596.89 L223.65,596.45 L224.15,595.98 L224.65,595.49 L225.15,594.99 L225.65,594.46 L226.15,593.93 L226.65,593.4 L227.15,592.87 L227.65,592.34 L228.15,591.83 L228.65,591.35 L229.15,590.89 L229.65,590.47 L230.15,590.11 L230.65,589.79 L231.15,589.54 L231.65,589.36 L232.15,589.24 L232.65,589.21 L233.15,589.25 L233.65,589.37 L234.15,589.56 L234.65,589.82 L235.15,590.15 L235.65,590.53 L236.15,590.96 L236.65,591.43 L237.15,591.93 L237.65,592.46 L238.15,593 L238.65,593.55 L239.15,594.11 L239.65,594.66 L240.15,595.21 L240.65,595.74 L241.15,596.26 L241.65,596.75 L242.15,597.22 L242.65,597.66 L243.15,598.08 L243.65,598.46 L244.15,598.82 L244.65,599.15 L245.15,599.45 L245.65,599.73 L246.15,599.97 L246.65,600.2 L247.15,600.39 L247.65,600.57 L248.15,600.73 L248.65,600.87 L249.15,600.99 L249.65,601.1 L250.15,601.2 L250.65,601.28 L251.15,601.35 L251.65,601.42 L252.15,601.48 L252.65,601.53 L253.15,601.57 L253.65,601.61 L254.15,601.65 L254.65,601.68 L255.15,601.71 L255.65,601.74 L256.15,601.77 L256.65,601.79 L257.15,601.81 L257.65,601.84 L258.15,601.86 L258.65,601.88 L259.15,601.89 L259.65,601.91 L260.15,601.93 L260.65,601.95 L261.15,601.97 L261.65,601.98 L262.15,602 L262.65,602.01 L263.15,602.03 L263.65,602.05 L264.15,602.06 L264.65,602.08 L265.15,602.09" fill="none" stroke="#7a9a7a" stroke-width="0.8"/>
<path d="M232.2,601.14 L232.7,601.14 L233.2,601.14 L233.7,601.14 L234.2,601.14 L234.7,601.14 L235.2,601.14 L235.7,601.14 L236.2,601.14 L236.7,601.13 L237.2,601.13 L237.7,601.13 L238.2,601.12 L238.7,601.11 L239.2,601.1 L239.7,601.1 L240.2,601.08 L240.7,601.07 L241.2,601.05 L241.7,601.04 L242.2,601.01 L242.7,600.99 L243.2,600.96 L243.7,600.92 L244.2,600.88 L244.7,600.83 L245.2,600.77 L245.7,600.71 L246.2,600.63 L246.7,600.53 L247.2,600.43 L247.7,600.3 L248.2,600.16 L248.7,599.99 L249.2,599.8 L249.7,599.57 L250.2,599.32 L250.7,599.03 L251.2,598.7 L251.7,598.33 L252.2,597.91 L252.7,597.45 L253.2,596.93 L253.7,596.35 L254.2,595.71 L254.7,595.01 L255.2,594.25 L255.7,593.43 L256.2,592.53 L256.7,591.58 L257.2,590.56 L257.7,589.47 L258.2,588.34 L258.7,587.14 L259.2,585.9 L259.7,584.63 L260.2,583.32 L260.7,581.99 L261.2,580.65 L261.7,579.31 L262.2,577.99 L262.7,576.7 L263.2,575.45 L263.7,574.26 L264.2,573.16 L264.7,572.14 L265.2,571.24 L265.7,570.47 L266.2,569.83 L266.7,569.36 L267.2,569.04 L267.7,568.89 L268.2,568.92 L268.7,569.12 L269.2,569.5 L269.7,570.03 L270.2,570.71 L270.7,571.54 L271.2,572.48 L271.7,573.54 L272.2,574.68 L272.7,575.9 L273.2,577.18 L273.7,578.5 L274.2,579.85 L274.7,581.21 L275.2,582.58 L275.7,583.92 L276.2,585.25 L276.7,586.54 L277.2,587.8 L277.7,589 L278.2,590.15 L278.7,591.24 L279.2,592.27 L279.7,593.24 L280.2,594.14 L280.7,594.97 L281.2,595.74 L281.7,596.45 L282.2,597.1 L282.7,597.69 L283.2,598.22 L283.7,598.7 L284.2,599.13 L284.7,599.51 L285.2,599.85 L285.7,600.16 L286.2,600.43 L286.7,600.66 L287.2,600.87 L287.7,601.06 L288.2,601.22 L288.7,601.37 L289.2,601.49 L289.7,601.6 L290.2,601.7 L290.7,601.79 L291.2,601.87 L291.7,601.94 L292.2,602 L292.7,602.06 L293.2,602.11 L293.7,602.15 L294.2,602.2 L294.7,602.24 L295.2,602.27 L295.7,602.31 L296.2,602.34 L296.7,602.37 L297.2,602.4 L297.7,602.43 L298.2,602.46 L298.7,602.49 L299.2,602.51 L299.7,602.54 L300.2,602.56 L300.7,602.59 L301.2,602.61 L301.7,602.63 L302.2,602.65 L302.7,602.67 L303.2,602.7" fill="url(#geY)" stroke="none" fill-opacity="0.88"/>
<path d="M232.2,601.14 L232.7,601.14 L233.2,601.14 L233.7,601.14 L234.2,601.14 L234.7,601.14 L235.2,601.14 L235.7,601.14 L236.2,601.14 L236.7,601.13 L237.2,601.13 L237.7,601.13 L238.2,601.12 L238.7,601.11 L239.2,601.1 L239.7,601.1 L240.2,601.08 L240.7,601.07 L241.2,601.05 L241.7,601.04 L242.2,601.01 L242.7,600.99 L243.2,600.96 L243.7,600.92 L244.2,600.88 L244.7,600.83 L245.2,600.77 L245.7,600.71 L246.2,600.63 L246.7,600.53 L247.2,600.43 L247.7,600.3 L248.2,600.16 L248.7,599.99 L249.2,599.8 L249.7,599.57 L250.2,599.32 L250.7,599.03 L251.2,598.7 L251.7,598.33 L252.2,597.91 L252.7,597.45 L253.2,596.93 L253.7,596.35 L254.2,595.71 L254.7,595.01 L255.2,594.25 L255.7,593.43 L256.2,592.53 L256.7,591.58 L257.2,590.56 L257.7,589.47 L258.2,588.34 L258.7,587.14 L259.2,585.9 L259.7,584.63 L260.2,583.32 L260.7,581.99 L261.2,580.65 L261.7,579.31 L262.2,577.99 L262.7,576.7 L263.2,575.45 L263.7,574.26 L264.2,573.16 L264.7,572.14 L265.2,571.24 L265.7,570.47 L266.2,569.83 L266.7,569.36 L267.2,569.04 L267.7,568.89 L268.2,568.92 L268.7,569.12 L269.2,569.5 L269.7,570.03 L270.2,570.71 L270.7,571.54 L271.2,572.48 L271.7,573.54 L272.2,574.68 L272.7,575.9 L273.2,577.18 L273.7,578.5 L274.2,579.85 L274.7,581.21 L275.2,582.58 L275.7,583.92 L276.2,585.25 L276.7,586.54 L277.2,587.8 L277.7,589 L278.2,590.15 L278.7,591.24 L279.2,592.27 L279.7,593.24 L280.2,594.14 L280.7,594.97 L281.2,595.74 L281.7,596.45 L282.2,597.1 L282.7,597.69 L283.2,598.22 L283.7,598.7 L284.2,599.13 L284.7,599.51 L285.2,599.85 L285.7,600.16 L286.2,600.43 L286.7,600.66 L287.2,600.87 L287.7,601.06 L288.2,601.22 L288.7,601.37 L289.2,601.49 L289.7,601.6 L290.2,601.7 L290.7,601.79 L291.2,601.87 L291.7,601.94 L292.2,602 L292.7,602.06 L293.2,602.11 L293.7,602.15 L294.2,602.2 L294.7,602.24 L295.2,602.27 L295.7,602.31 L296.2,602.34 L296.7,602.37 L297.2,602.4 L297.7,602.43 L298.2,602.46 L298.7,602.49 L299.2,602.51 L299.7,602.54 L300.2,602.56 L300.7,602.59 L301.2,602.61 L301.7,602.63 L302.2,602.65 L302.7,602.67 L303.2,602.7" fill="none" stroke="#e8a040" stroke-width="0.8"/>
<path d="M231.5,601.37 L232,601.37 L232.5,601.38 L233,601.38 L233.5,601.39 L234,601.39 L234.5,601.39 L235,601.39 L235.5,601.39 L236,601.39 L236.5,601.39 L237,601.39 L237.5,601.38 L238,601.37 L238.5,601.35 L239,601.33 L239.5,601.3 L240,601.25 L240.5,601.19 L241,601.12 L241.5,601.02 L242,600.89 L242.5,600.74 L243,600.54 L243.5,600.3 L244,600.01 L244.5,599.66 L245,599.25 L245.5,598.79 L246,598.26 L246.5,597.67 L247,597.03 L247.5,596.34 L248,595.61 L248.5,594.87 L249,594.13 L249.5,593.41 L250,592.73 L250.5,592.13 L251,591.63 L251.5,591.25 L252,591.02 L252.5,590.95 L253,591.04 L253.5,591.29 L254,591.69 L254.5,592.22 L255,592.84 L255.5,593.54 L256,594.28 L256.5,595.05 L257,595.81 L257.5,596.56 L258,597.27 L258.5,597.93 L259,598.54 L259.5,599.09 L260,599.58 L260.5,600.01 L261,600.38 L261.5,600.69 L262,600.96 L262.5,601.18 L263,601.36 L263.5,601.5 L264,601.62 L264.5,601.72 L265,601.8 L265.5,601.87 L266,601.92 L266.5,601.97 L267,602.01 L267.5,602.04 L268,602.07 L268.5,602.09 L269,602.12 L269.5,602.14 L270,602.16 L270.5,602.18 L271,602.2 L271.5,602.22 L272,602.24 L272.5,602.26 L273,602.27 L273.5,602.29" fill="url(#geC)" stroke="none" fill-opacity="0.88"/>
<path d="M231.5,601.37 L232,601.37 L232.5,601.38 L233,601.38 L233.5,601.39 L234,601.39 L234.5,601.39 L235,601.39 L235.5,601.39 L236,601.39 L236.5,601.39 L237,601.39 L237.5,601.38 L238,601.37 L238.5,601.35 L239,601.33 L239.5,601.3 L240,601.25 L240.5,601.19 L241,601.12 L241.5,601.02 L242,600.89 L242.5,600.74 L243,600.54 L243.5,600.3 L244,600.01 L244.5,599.66 L245,599.25 L245.5,598.79 L246,598.26 L246.5,597.67 L247,597.03 L247.5,596.34 L248,595.61 L248.5,594.87 L249,594.13 L249.5,593.41 L250,592.73 L250.5,592.13 L251,591.63 L251.5,591.25 L252,591.02 L252.5,590.95 L253,591.04 L253.5,591.29 L254,591.69 L254.5,592.22 L255,592.84 L255.5,593.54 L256,594.28 L256.5,595.05 L257,595.81 L257.5,596.56 L258,597.27 L258.5,597.93 L259,598.54 L259.5,599.09 L260,599.58 L260.5,600.01 L261,600.38 L261.5,600.69 L262,600.96 L262.5,601.18 L263,601.36 L263.5,601.5 L264,601.62 L264.5,601.72 L265,601.8 L265.5,601.87 L266,601.92 L266.5,601.97 L267,602.01 L267.5,602.04 L268,602.07 L268.5,602.09 L269,602.12 L269.5,602.14 L270,602.16 L270.5,602.18 L271,602.2 L271.5,602.22 L272,602.24 L272.5,602.26 L273,602.27 L273.5,602.29" fill="none" stroke="#30d0e8" stroke-width="0.8"/>
<path d="M247.98,600.94 L248.48,600.93 L248.98,600.92 L249.48,600.9 L249.98,600.89 L250.48,600.87 L250.98,600.85 L251.48,600.83 L251.98,600.81 L252.48,600.78 L252.98,600.76 L253.48,600.73 L253.98,600.7 L254.48,600.67 L254.98,600.63 L255.48,600.59 L255.98,600.54 L256.48,600.5 L256.98,600.44 L257.48,600.38 L257.98,600.31 L258.48,600.23 L258.98,600.14 L259.48,600.04 L259.98,599.93 L260.48,599.79 L260.98,599.64 L261.48,599.47 L261.98,599.26 L262.48,599.03 L262.98,598.76 L263.48,598.45 L263.98,598.09 L264.48,597.68 L264.98,597.21 L265.48,596.67 L265.98,596.06 L266.48,595.36 L266.98,594.57 L267.48,593.68 L267.98,592.68 L268.48,591.56 L268.98,590.32 L269.48,588.94 L269.98,587.41 L270.48,585.74 L270.98,583.91 L271.48,581.93 L271.98,579.79 L272.48,577.48 L272.98,575.02 L273.48,572.4 L273.98,569.64 L274.48,566.74 L274.98,563.71 L275.48,560.58 L275.98,557.36 L276.48,554.06 L276.98,550.73 L277.48,547.38 L277.98,544.05 L278.48,540.76 L278.98,537.56 L279.48,534.49 L279.98,531.57 L280.48,528.86 L280.98,526.39 L281.48,524.2 L281.98,522.33 L282.48,520.81 L282.98,519.68 L283.48,518.96 L283.98,518.65 L284.48,518.77 L284.98,519.32 L285.48,520.28 L285.98,521.64 L286.48,523.36 L286.98,525.42 L287.48,527.79 L287.98,530.41 L288.48,533.26 L288.98,536.28 L289.48,539.45 L289.98,542.72 L290.48,546.06 L290.98,549.43 L291.48,552.79 L291.98,556.13 L292.48,559.41 L292.98,562.61 L293.48,565.71 L293.98,568.7 L294.48,571.55 L294.98,574.26 L295.48,576.82 L295.98,579.22 L296.48,581.47 L296.98,583.55 L297.48,585.47 L297.98,587.24 L298.48,588.86 L298.98,590.33 L299.48,591.66 L299.98,592.86 L300.48,593.93 L300.98,594.9 L301.48,595.76 L301.98,596.52 L302.48,597.19 L302.98,597.79 L303.48,598.31 L303.98,598.78 L304.48,599.18 L304.98,599.53 L305.48,599.85 L305.98,600.12 L306.48,600.36 L306.98,600.57 L307.48,600.75 L307.98,600.92 L308.48,601.06 L308.98,601.19 L309.48,601.31 L309.98,601.41 L310.48,601.51 L310.98,601.6 L311.48,601.68 L311.98,601.75 L312.48,601.82 L312.98,601.88 L313.48,601.94 L313.98,602 L314.48,602.05 L314.98,602.1 L315.48,602.15 L315.98,602.2 L316.48,602.24 L316.98,602.29 L317.48,602.33 L317.98,602.37 L318.48,602.41 L318.98,602.45 L319.48,602.48 L319.98,602.52" fill="url(#geB)" stroke="none" fill-opacity="0.88"/>
<path d="M247.98,600.94 L248.48,600.93 L248.98,600.92 L249.48,600.9 L249.98,600.89 L250.48,600.87 L250.98,600.85 L251.48,600.83 L251.98,600.81 L252.48,600.78 L252.98,600.76 L253.48,600.73 L253.98,600.7 L254.48,600.67 L254.98,600.63 L255.48,600.59 L255.98,600.54 L256.48,600.5 L256.98,600.44 L257.48,600.38 L257.98,600.31 L258.48,600.23 L258.98,600.14 L259.48,600.04 L259.98,599.93 L260.48,599.79 L260.98,599.64 L261.48,599.47 L261.98,599.26 L262.48,599.03 L262.98,598.76 L263.48,598.45 L263.98,598.09 L264.48,597.68 L264.98,597.21 L265.48,596.67 L265.98,596.06 L266.48,595.36 L266.98,594.57 L267.48,593.68 L267.98,592.68 L268.48,591.56 L268.98,590.32 L269.48,588.94 L269.98,587.41 L270.48,585.74 L270.98,583.91 L271.48,581.93 L271.98,579.79 L272.48,577.48 L272.98,575.02 L273.48,572.4 L273.98,569.64 L274.48,566.74 L274.98,563.71 L275.48,560.58 L275.98,557.36 L276.48,554.06 L276.98,550.73 L277.48,547.38 L277.98,544.05 L278.48,540.76 L278.98,537.56 L279.48,534.49 L279.98,531.57 L280.48,528.86 L280.98,526.39 L281.48,524.2 L281.98,522.33 L282.48,520.81 L282.98,519.68 L283.48,518.96 L283.98,518.65 L284.48,518.77 L284.98,519.32 L285.48,520.28 L285.98,521.64 L286.48,523.36 L286.98,525.42 L287.48,527.79 L287.98,530.41 L288.48,533.26 L288.98,536.28 L289.48,539.45 L289.98,542.72 L290.48,546.06 L290.98,549.43 L291.48,552.79 L291.98,556.13 L292.48,559.41 L292.98,562.61 L293.48,565.71 L293.98,568.7 L294.48,571.55 L294.98,574.26 L295.48,576.82 L295.98,579.22 L296.48,581.47 L296.98,583.55 L297.48,585.47 L297.98,587.24 L298.48,588.86 L298.98,590.33 L299.48,591.66 L299.98,592.86 L300.48,593.93 L300.98,594.9 L301.48,595.76 L301.98,596.52 L302.48,597.19 L302.98,597.79 L303.48,598.31 L303.98,598.78 L304.48,599.18 L304.98,599.53 L305.48,599.85 L305.98,600.12 L306.48,600.36 L306.98,600.57 L307.48,600.75 L307.98,600.92 L308.48,601.06 L308.98,601.19 L309.48,601.31 L309.98,601.41 L310.48,601.51 L310.98,601.6 L311.48,601.68 L311.98,601.75 L312.48,601.82 L312.98,601.88 L313.48,601.94 L313.98,602 L314.48,602.05 L314.98,602.1 L315.48,602.15 L315.98,602.2 L316.48,602.24 L316.98,602.29 L317.48,602.33 L317.98,602.37 L318.48,602.41 L318.98,602.45 L319.48,602.48 L319.98,602.52" fill="none" stroke="#4848e8" stroke-width="0.8"/>
<path d="M251.4,601.58 L251.9,601.58 L252.4,601.58 L252.9,601.58 L253.4,601.58 L253.9,601.58 L254.4,601.58 L254.9,601.58 L255.4,601.58 L255.9,601.58 L256.4,601.58 L256.9,601.58 L257.4,601.57 L257.9,601.57 L258.4,601.56 L258.9,601.55 L259.4,601.55 L259.9,601.54 L260.4,601.53 L260.9,601.51 L261.4,601.5 L261.9,601.48 L262.4,601.46 L262.9,601.43 L263.4,601.4 L263.9,601.37 L264.4,601.32 L264.9,601.28 L265.4,601.22 L265.9,601.16 L266.4,601.08 L266.9,601 L267.4,600.89 L267.9,600.78 L268.4,600.64 L268.9,600.49 L269.4,600.32 L269.9,600.12 L270.4,599.89 L270.9,599.63 L271.4,599.34 L271.9,599.01 L272.4,598.65 L272.9,598.24 L273.4,597.79 L273.9,597.29 L274.4,596.74 L274.9,596.13 L275.4,595.48 L275.9,594.77 L276.4,594 L276.9,593.18 L277.4,592.3 L277.9,591.37 L278.4,590.38 L278.9,589.35 L279.4,588.27 L279.9,587.15 L280.4,585.99 L280.9,584.8 L281.4,583.6 L281.9,582.38 L282.4,581.16 L282.9,579.95 L283.4,578.76 L283.9,577.6 L284.4,576.48 L284.9,575.43 L285.4,574.44 L285.9,573.54 L286.4,572.73 L286.9,572.04 L287.4,571.47 L287.9,571.03 L288.4,570.73 L288.9,570.57 L289.4,570.57 L289.9,570.72 L290.4,571.01 L290.9,571.44 L291.4,572.01 L291.9,572.7 L292.4,573.51 L292.9,574.41 L293.4,575.41 L293.9,576.47 L294.4,577.6 L294.9,578.78 L295.4,579.98 L295.9,581.21 L296.4,582.45 L296.9,583.69 L297.4,584.93 L297.9,586.14 L298.4,587.32 L298.9,588.47 L299.4,589.58 L299.9,590.65 L300.4,591.67 L300.9,592.63 L301.4,593.54 L301.9,594.4 L302.4,595.2 L302.9,595.94 L303.4,596.63 L303.9,597.27 L304.4,597.85 L304.9,598.38 L305.4,598.86 L305.9,599.3 L306.4,599.7 L306.9,600.06 L307.4,600.38 L307.9,600.66 L308.4,600.92 L308.9,601.14 L309.4,601.35 L309.9,601.53 L310.4,601.69 L310.9,601.83 L311.4,601.95 L311.9,602.06 L312.4,602.16 L312.9,602.25 L313.4,602.33 L313.9,602.4 L314.4,602.47 L314.9,602.52 L315.4,602.58 L315.9,602.63 L316.4,602.67 L316.9,602.71 L317.4,602.75 L317.9,602.79 L318.4,602.82 L318.9,602.85 L319.4,602.88 L319.9,602.91 L320.4,602.94 L320.9,602.97 L321.4,602.99 L321.9,603.02 L322.4,603.04 L322.9,603.06 L323.4,603.09 L323.9,603.11 L324.4,603.13 L324.9,603.15 L325.4,603.17 L325.9,603.2 L326.4,603.22 L326.9,603.24" fill="url(#geR)" stroke="none" fill-opacity="0.88"/>
<path d="M251.4,601.58 L251.9,601.58 L252.4,601.58 L252.9,601.58 L253.4,601.58 L253.9,601.58 L254.4,601.58 L254.9,601.58 L255.4,601.58 L255.9,601.58 L256.4,601.58 L256.9,601.58 L257.4,601.57 L257.9,601.57 L258.4,601.56 L258.9,601.55 L259.4,601.55 L259.9,601.54 L260.4,601.53 L260.9,601.51 L261.4,601.5 L261.9,601.48 L262.4,601.46 L262.9,601.43 L263.4,601.4 L263.9,601.37 L264.4,601.32 L264.9,601.28 L265.4,601.22 L265.9,601.16 L266.4,601.08 L266.9,601 L267.4,600.89 L267.9,600.78 L268.4,600.64 L268.9,600.49 L269.4,600.32 L269.9,600.12 L270.4,599.89 L270.9,599.63 L271.4,599.34 L271.9,599.01 L272.4,598.65 L272.9,598.24 L273.4,597.79 L273.9,597.29 L274.4,596.74 L274.9,596.13 L275.4,595.48 L275.9,594.77 L276.4,594 L276.9,593.18 L277.4,592.3 L277.9,591.37 L278.4,590.38 L278.9,589.35 L279.4,588.27 L279.9,587.15 L280.4,585.99 L280.9,584.8 L281.4,583.6 L281.9,582.38 L282.4,581.16 L282.9,579.95 L283.4,578.76 L283.9,577.6 L284.4,576.48 L284.9,575.43 L285.4,574.44 L285.9,573.54 L286.4,572.73 L286.9,572.04 L287.4,571.47 L287.9,571.03 L288.4,570.73 L288.9,570.57 L289.4,570.57 L289.9,570.72 L290.4,571.01 L290.9,571.44 L291.4,572.01 L291.9,572.7 L292.4,573.51 L292.9,574.41 L293.4,575.41 L293.9,576.47 L294.4,577.6 L294.9,578.78 L295.4,579.98 L295.9,581.21 L296.4,582.45 L296.9,583.69 L297.4,584.93 L297.9,586.14 L298.4,587.32 L298.9,588.47 L299.4,589.58 L299.9,590.65 L300.4,591.67 L300.9,592.63 L301.4,593.54 L301.9,594.4 L302.4,595.2 L302.9,595.94 L303.4,596.63 L303.9,597.27 L304.4,597.85 L304.9,598.38 L305.4,598.86 L305.9,599.3 L306.4,599.7 L306.9,600.06 L307.4,600.38 L307.9,600.66 L308.4,600.92 L308.9,601.14 L309.4,601.35 L309.9,601.53 L310.4,601.69 L310.9,601.83 L311.4,601.95 L311.9,602.06 L312.4,602.16 L312.9,602.25 L313.4,602.33 L313.9,602.4 L314.4,602.47 L314.9,602.52 L315.4,602.58 L315.9,602.63 L316.4,602.67 L316.9,602.71 L317.4,602.75 L317.9,602.79 L318.4,602.82 L318.9,602.85 L319.4,602.88 L319.9,602.91 L320.4,602.94 L320.9,602.97 L321.4,602.99 L321.9,603.02 L322.4,603.04 L322.9,603.06 L323.4,603.09 L323.9,603.11 L324.4,603.13 L324.9,603.15 L325.4,603.17 L325.9,603.2 L326.4,603.22 L326.9,603.24" fill="none" stroke="#e03c3c" stroke-width="0.8"/>
<path d="M208.5,600.98 L368.7,604.5" stroke="#10f010" stroke-width="2.6" fill="none"/>
<path d="M196.3,592.42 L196.99,599.63 L197.69,597.52 L198.43,599.72 L199.22,591.91 L199.98,599.53 L200.54,588.65 L201.27,599.83 L201.87,592.3 L202.49,600.11 L203.05,595.38 L203.76,599.91 L204.5,593.48 L205.13,600.25 L205.98,591.51 L206.63,600.15 L207.25,599.5 L207.92,599.63 L208.72,591.34 L209.27,597.48 L209.88,595.35 L210.55,598.88 L211.13,594.09 L211.7,597.68 L212.35,589.36 L212.93,598.8 L213.5,597.98 L214.18,598.11 L214.79,598.11 L215.38,597.77 L216.05,596.8 L216.84,596.55 L217.48,594.51 L218.29,596.2 L219.03,585.17 L219.66,593.36 L220.44,591.35 L221.17,594.01 L221.79,590.73 L222.63,593.35 L223.32,585.3 L223.92,592.02 L224.74,590.84 L225.51,591.27 L226.35,587.58 L227.08,587.71 L227.75,589.19 L228.37,590.12 L229.14,589.1 L229.77,586.83 L230.38,588.56 L231.09,588.49 L231.9,585.46 L232.51,587.57 L233.07,585.2 L233.73,586.84 L234.45,585.42 L235.29,587.73 L236.04,584.77 L236.6,587.33 L237.42,581.45 L238.11,586.16 L238.88,578.89 L239.65,585.41 L240.47,590.08 L241.3,589.22 L241.95,587.63 L242.63,589.09 L243.42,588.19 L244.08,591.17 L244.81,590.5 L245.65,591.74 L246.47,590.18 L247.19,589.54 L247.87,588.39 L248.43,588.92 L249.16,585.15 L249.86,587.56 L250.6,582 L251.35,586.41 L251.96,582.44 L252.64,583.96 L253.46,582.75 L254.14,583.71 L254.93,578.09 L255.66,582.98 L256.3,580.53 L257.11,582.18 L257.87,579.16 L258.56,581.59 L259.19,579.71 L259.89,579.4 L260.53,573.25 L261.1,575.45 L261.66,574.78 L262.38,574.82 L263.03,568.22 L263.58,571.36 L264.38,563.86 L265.07,566.71 L265.81,560.78 L266.56,562.08 L267.17,553.82 L267.93,559.18 L268.54,555.37 L269.24,554.37 L269.98,551.6 L270.8,549.79 L271.38,539.1 L272.11,546.44 L272.94,539.47 L273.73,541.28 L274.56,532.84 L275.33,537.36 L276.12,529.96 L276.94,530.97 L277.79,513.04 L278.43,521.43 L279.26,500.45 L279.97,507.71 L280.75,499.1 L281.32,500.65 L282.11,491.36 L282.7,492.34 L283.3,482.85 L284.05,489.46 L284.89,481.91 L285.6,489.91 L286.23,488.58 L287.04,492.39 L287.75,493.06 L288.57,501.54 L289.19,492.82 L289.91,507.22 L290.52,504.51 L291.08,520.29 L291.92,515.45 L292.64,533.2 L293.33,533.64 L294.01,543.15 L294.84,540.73 L295.43,554.61 L296.11,550.26 L296.76,560.26 L297.37,546.91 L297.92,569.66 L298.53,571.98 L299.19,576.8 L299.92,569.6 L300.55,585.73 L301.16,584.45 L301.83,591.57 L302.54,591.27 L303.28,595.61 L303.99,594.23 L304.61,598.5 L305.38,597.93 L306.03,599.36 L306.85,599.25 L307.44,598.94 L308.07,598.64 L308.74,601.99 L309.53,600.6 L310.09,602.36 L310.7,600.39 L311.28,601.49 L311.98,602.96 L312.59,602.47 L313.16,602.69 L313.86,603.48 L314.58,602.35 L315.39,603.29 L316.23,599.15 L316.92,603.65 L317.7,602.18 L318.38,602.96 L319.11,599.55 L319.72,603.79 L320.4,603.43 L321,603.02 L321.71,598.18 L322.47,603.8 L323.27,601.87 L323.98,603.35 L324.82,603.06 L325.59,603.41 L326.38,602.73 L327.19,603.27 L327.95,603.35 L328.72,602.62 L329.29,600.1 L330.03,603.34 L330.77,603.2 L331.42,602.03 L332.17,601 L333.02,603.74 L333.76,602.59 L334.32,602.75 L335.05,603.78 L335.62,603.53 L336.22,603.09 L337.05,603.94 L337.76,597.15 L338.61,604.13 L339.35,603.57 L340.13,603.91 L340.69,602.56 L341.29,604.03 L341.99,603.27 L342.67,604.06 L343.38,601.94 L344.12,603.77 L344.84,603.11 L345.39,602.86 L346.02,602.51 L346.68,604.14 L347.5,603.98 L348.34,604 L348.91,601.71 L349.75,603.76 L350.37,597.95 L351.06,603.99 L351.91,599.89 L352.6,603.18 L353.21,598.66 L353.96,603.96 L354.64,603.76 L355.43,603.13 L356.14,597.61 L356.76,604.3 L357.34,600.48 L358,603.35 L358.63,602.71 L359.37,603.27 L360.15,603.32 L360.97,603.72 L361.79,603.17 L362.46,604.29 L363.2,599.81 L363.95,603.69 L364.67,602.37 L365.28,603.74 L365.93,602.2 L366.73,602.65 L367.46,603.88 L368.09,603.77" fill="none" stroke="#000" stroke-width="1.3" stroke-linejoin="miter"/>
<path d="M283.8,496 L284.3,481.2 L285.0,490 L285.6,484 L286.2,493" fill="none" stroke="#000" stroke-width="1.3"/>
<path d="M196.2,600.5 C197.33,600.52 201.02,600.6 203,600.6 C204.98,600.6 206.52,600.63 208.1,600.5 C209.68,600.37 211.35,600.03 212.5,599.8 C213.65,599.57 213.83,599.65 215,599.1 C216.17,598.55 217.98,597.42 219.5,596.5 C221.02,595.58 222.6,594.58 224.1,593.6 C225.6,592.62 227.07,591.43 228.5,590.6 C229.93,589.77 231.48,588.83 232.7,588.6 C233.92,588.37 234.97,588.97 235.8,589.2 C236.63,589.43 236.83,589.57 237.7,590 C238.57,590.43 239.93,591.3 241,591.8 C242.07,592.3 243.27,592.93 244.1,593 C244.93,593.07 245.4,592.62 246,592.2 C246.6,591.78 247.03,591.23 247.7,590.5 C248.37,589.77 249.13,588.48 250,587.8 C250.87,587.12 252.07,586.87 252.9,586.4 C253.73,585.93 254.27,585.5 255,585 C255.73,584.5 256.42,584.15 257.3,583.4 C258.18,582.65 259.52,581.65 260.3,580.5 C261.08,579.35 261.4,578.08 262,576.5 C262.6,574.92 263.32,572.67 263.9,571 C264.48,569.33 265.02,567.72 265.5,566.5 C265.98,565.28 266.42,564.78 266.8,563.7 C267.18,562.62 267.17,561.95 267.8,560 C268.43,558.05 269.83,554.2 270.6,552 C271.37,549.8 271.82,548.52 272.4,546.8 C272.98,545.08 273.55,543.33 274.1,541.7 C274.65,540.07 275.18,538.5 275.7,537 C276.22,535.5 276.75,535.12 277.2,532.7 C277.65,530.28 278.02,525.78 278.4,522.5 C278.78,519.22 279.12,515.92 279.5,513 C279.88,510.08 280.32,507.52 280.7,505 C281.08,502.48 281.37,500.15 281.8,497.9 C282.23,495.65 282.82,493.05 283.3,491.5 C283.78,489.95 284.22,488.6 284.7,488.6 C285.18,488.6 285.72,489.95 286.2,491.5 C286.68,493.05 287.17,495.57 287.6,497.9 C288.03,500.23 288.42,502.98 288.8,505.5 C289.18,508.02 289.52,510.33 289.9,513 C290.28,515.67 290.72,518.6 291.1,521.5 C291.48,524.4 291.82,527.37 292.2,530.4 C292.58,533.43 293,536.6 293.4,539.7 C293.8,542.8 294.2,545.78 294.6,549 C295,552.22 295.32,555.33 295.8,559 C296.28,562.67 296.88,567.17 297.5,571 C298.12,574.83 298.88,578.83 299.5,582 C300.12,585.17 300.65,587.8 301.2,590 C301.75,592.2 302.17,593.4 302.8,595.2 C303.43,597 304.13,599.53 305,600.8 C305.87,602.07 306.83,602.3 308,602.8 C309.17,603.3 310.67,603.58 312,603.8 C313.33,604.02 313,603.98 316,604.1 C319,604.22 324.33,604.42 330,604.5 C335.67,604.58 343.53,604.57 350,604.6 C356.47,604.63 365.67,604.68 368.8,604.7" fill="none" stroke="#ff00ff" stroke-width="2.3" stroke-linejoin="round"/>
<rect x="195.8" y="461.7" width="173.4" height="150.2" fill="none" stroke="#333" stroke-width="1.3"/>
<line x1="195.8" y1="611.9" x2="195.8" y2="616.9" stroke="#111" stroke-width="1.2"/>
<text x="195.8" y="631.2" font-size="11.9" text-anchor="middle" fill="#111" >292</text>
<line x1="208.19" y1="611.9" x2="208.19" y2="614.9" stroke="#111" stroke-width="1.2"/>
<line x1="220.57" y1="611.9" x2="220.57" y2="616.9" stroke="#111" stroke-width="1.2"/>
<text x="220.57" y="631.2" font-size="11.9" text-anchor="middle" fill="#111" >290</text>
<line x1="232.96" y1="611.9" x2="232.96" y2="614.9" stroke="#111" stroke-width="1.2"/>
<line x1="245.34" y1="611.9" x2="245.34" y2="616.9" stroke="#111" stroke-width="1.2"/>
<text x="245.34" y="631.2" font-size="11.9" text-anchor="middle" fill="#111" >288</text>
<line x1="257.73" y1="611.9" x2="257.73" y2="614.9" stroke="#111" stroke-width="1.2"/>
<line x1="270.11" y1="611.9" x2="270.11" y2="616.9" stroke="#111" stroke-width="1.2"/>
<text x="270.11" y="631.2" font-size="11.9" text-anchor="middle" fill="#111" >286</text>
<line x1="282.5" y1="611.9" x2="282.5" y2="614.9" stroke="#111" stroke-width="1.2"/>
<line x1="294.89" y1="611.9" x2="294.89" y2="616.9" stroke="#111" stroke-width="1.2"/>
<text x="294.89" y="631.2" font-size="11.9" text-anchor="middle" fill="#111" >284</text>
<line x1="307.27" y1="611.9" x2="307.27" y2="614.9" stroke="#111" stroke-width="1.2"/>
<line x1="319.66" y1="611.9" x2="319.66" y2="616.9" stroke="#111" stroke-width="1.2"/>
<text x="319.66" y="631.2" font-size="11.9" text-anchor="middle" fill="#111" >282</text>
<line x1="332.04" y1="611.9" x2="332.04" y2="614.9" stroke="#111" stroke-width="1.2"/>
<line x1="344.43" y1="611.9" x2="344.43" y2="616.9" stroke="#111" stroke-width="1.2"/>
<text x="344.43" y="631.2" font-size="11.9" text-anchor="middle" fill="#111" >280</text>
<line x1="356.81" y1="611.9" x2="356.81" y2="614.9" stroke="#111" stroke-width="1.2"/>
<line x1="369.2" y1="611.9" x2="369.2" y2="616.9" stroke="#111" stroke-width="1.2"/>
<text x="369.2" y="631.2" font-size="11.9" text-anchor="middle" fill="#111" >278</text>
<text x="171" y="474" font-size="12.4" text-anchor="start" fill="#111" >(e)</text>
<text transform="translate(183.4,531.8) rotate(-90)" x="0" y="0" font-size="14.1" text-anchor="middle" fill="#111">Intensity/a.u</text>
<text x="288" y="650" font-size="13.6" text-anchor="middle" fill="#111" >Binding Energy / eV</text>
<text x="202.6" y="482.6" font-size="11.4" text-anchor="start" fill="#111" letter-spacing="0.4">C1s</text>
<text x="197.6" y="551.1" font-size="8.8" text-anchor="start" fill="#111" >Experimental curve</text>
<text x="312.8" y="541.8" font-size="9" text-anchor="start" fill="#111" >Fitting curve</text>
<text x="328" y="586.1" font-size="10" text-anchor="start" fill="#111" >Baseline</text>
<line x1="219" y1="552.5" x2="228.21" y2="571.82" stroke="#000" stroke-width="1.3"/>
<path d="M232.3,580.4 L224.17,572.64 L231.39,569.2 Z" fill="#000"/>
<line x1="324.2" y1="546.2" x2="304.95" y2="553.29" stroke="#ff00ff" stroke-width="1.3"/>
<path d="M296.5,556.4 L304.5,549.19 L307.27,556.7 Z" fill="#ff00ff"/>
<line x1="327.5" y1="580.5" x2="300.2" y2="597.79" stroke="#30f030" stroke-width="1.1"/>
<path d="M292.6,602.6 L298.91,593.87 L303.19,600.63 Z" fill="#30f030"/>
<rect x="315.5" y="467.4" width="17.6" height="8.1" fill="url(#geB)" stroke="#888" stroke-width="0.9"/>
<text x="336.6" y="474.9" font-size="8.9" text-anchor="start" fill="#111" >C-C</text>
<rect x="315.5" y="477.85" width="17.6" height="8.1" fill="url(#geR)" stroke="#888" stroke-width="0.9"/>
<text x="336.6" y="485.35" font-size="8.9" text-anchor="start" fill="#111" >C-Si</text>
<rect x="315.5" y="488.3" width="17.6" height="8.1" fill="url(#geG)" stroke="#888" stroke-width="0.9"/>
<text x="336.6" y="495.8" font-size="8.9" text-anchor="start" fill="#111" >O-C=O</text>
<rect x="315.5" y="498.75" width="17.6" height="8.1" fill="url(#geC)" stroke="#888" stroke-width="0.9"/>
<text x="336.6" y="506.25" font-size="8.9" text-anchor="start" fill="#111" >C=O</text>
<rect x="315.5" y="509.2" width="17.6" height="8.1" fill="url(#geY)" stroke="#888" stroke-width="0.9"/>
<text x="336.6" y="516.7" font-size="8.9" text-anchor="start" fill="#111" >C-N</text>
</svg></body></html>
